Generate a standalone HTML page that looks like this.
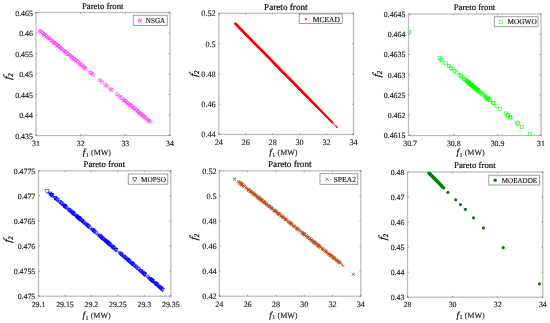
<!DOCTYPE html>
<html><head><meta charset="utf-8"><title>Pareto front</title>
<style>
html,body{margin:0;padding:0;background:#fff;}
svg{display:block;font-family:"Liberation Serif",serif;}
text{stroke:#222;stroke-width:0.15px;text-rendering:geometricPrecision;}
</style></head><body>
<svg width="550" height="323" viewBox="0 0 550 323">
<rect width="550" height="323" fill="#fff"/>
<g>
<rect x="36.00" y="12.50" width="134.00" height="123.00" fill="#fff" stroke="#bbbbbb" stroke-width="1.25"/>
<text x="36.00" y="145.80" font-size="7.85" text-anchor="middle" fill="#262626">31</text>
<text x="80.67" y="145.80" font-size="7.85" text-anchor="middle" fill="#262626">32</text>
<text x="125.33" y="145.80" font-size="7.85" text-anchor="middle" fill="#262626">33</text>
<text x="170.00" y="145.80" font-size="7.85" text-anchor="middle" fill="#262626">34</text>
<text x="32.90" y="138.80" font-size="7.85" text-anchor="end" fill="#262626">0.435</text>
<text x="32.90" y="118.30" font-size="7.85" text-anchor="end" fill="#262626">0.44</text>
<text x="32.90" y="97.80" font-size="7.85" text-anchor="end" fill="#262626">0.445</text>
<text x="32.90" y="77.30" font-size="7.85" text-anchor="end" fill="#262626">0.45</text>
<text x="32.90" y="56.80" font-size="7.85" text-anchor="end" fill="#262626">0.455</text>
<text x="32.90" y="36.30" font-size="7.85" text-anchor="end" fill="#262626">0.46</text>
<text x="32.90" y="15.80" font-size="7.85" text-anchor="end" fill="#262626">0.465</text>
<path d="M36.00 135.50v-1.40M36.00 12.50v1.40M80.67 135.50v-1.40M80.67 12.50v1.40M125.33 135.50v-1.40M125.33 12.50v1.40M170.00 135.50v-1.40M170.00 12.50v1.40M36.00 135.50h1.40M170.00 135.50h-1.40M36.00 115.00h1.40M170.00 115.00h-1.40M36.00 94.50h1.40M170.00 94.50h-1.40M36.00 74.00h1.40M170.00 74.00h-1.40M36.00 53.50h1.40M170.00 53.50h-1.40M36.00 33.00h1.40M170.00 33.00h-1.40M36.00 12.50h1.40M170.00 12.50h-1.40" stroke="#555" stroke-width="0.5" fill="none"/>
<text x="102.70" y="8.80" font-size="8.75" text-anchor="middle" fill="#000" style="stroke-width:0.2px">Pareto front</text>
<text x="82.70" y="154.90" font-size="9.20" font-style="italic" fill="#111" style="stroke-width:0.25px">f</text>
<text x="85.80" y="156.50" font-size="6.00" fill="#111">1</text>
<text x="91.00" y="154.90" font-size="8.00" fill="#262626">(MW)</text>
<text transform="translate(11.00 76.40) rotate(-90) skewX(-7)" font-size="10.80" text-anchor="middle" fill="#111" style="stroke-width:0.25px"><tspan font-style="italic">f</tspan><tspan font-size="7.00" dy="2.1">2</tspan></text>
<clipPath id="c36"><rect x="36.00" y="12.50" width="134.00" height="123.00"/></clipPath>
<g clip-path="url(#c36)">
<polygon points="39.80,28.67 40.33,30.24 41.99,30.26 40.66,31.25 41.15,32.83 39.80,31.87 38.45,32.83 38.94,31.25 37.61,30.26 39.27,30.24" fill="none" stroke="#ff00ff" stroke-width="0.40"/>
<polygon points="40.77,29.54 41.30,31.11 42.96,31.13 41.63,32.12 42.13,33.70 40.77,32.74 39.42,33.70 39.92,32.12 38.59,31.13 40.24,31.11" fill="none" stroke="#ff00ff" stroke-width="0.40"/>
<polygon points="42.45,30.63 42.98,32.21 44.64,32.22 43.30,33.21 43.80,34.79 42.45,33.83 41.10,34.79 41.59,33.21 40.26,32.22 41.92,32.21" fill="none" stroke="#ff00ff" stroke-width="0.40"/>
<polygon points="43.74,31.79 44.26,33.36 45.92,33.38 44.59,34.37 45.09,35.95 43.74,34.99 42.38,35.95 42.88,34.37 41.55,33.38 43.21,33.36" fill="none" stroke="#ff00ff" stroke-width="0.40"/>
<polygon points="44.68,32.44 45.20,34.02 46.86,34.03 45.53,35.02 46.03,36.60 44.68,35.64 43.32,36.60 43.82,35.02 42.49,34.03 44.15,34.02" fill="none" stroke="#ff00ff" stroke-width="0.40"/>
<polygon points="46.03,33.66 46.56,35.23 48.21,35.25 46.88,36.23 47.38,37.82 46.03,36.86 44.68,37.82 45.17,36.23 43.84,35.25 45.50,35.23" fill="none" stroke="#ff00ff" stroke-width="0.40"/>
<polygon points="47.60,34.97 48.13,36.54 49.79,36.56 48.46,37.55 48.95,39.13 47.60,38.17 46.25,39.13 46.74,37.55 45.41,36.56 47.07,36.54" fill="none" stroke="#ff00ff" stroke-width="0.40"/>
<polygon points="48.75,35.78 49.28,37.35 50.94,37.37 49.61,38.35 50.10,39.94 48.75,38.98 47.40,39.94 47.90,38.35 46.56,37.37 48.22,37.35" fill="none" stroke="#ff00ff" stroke-width="0.40"/>
<polygon points="50.38,37.46 50.91,39.03 52.57,39.04 51.23,40.03 51.73,41.62 50.38,40.66 49.03,41.62 49.52,40.03 48.19,39.04 49.85,39.03" fill="none" stroke="#ff00ff" stroke-width="0.40"/>
<polygon points="51.51,38.05 52.04,39.62 53.69,39.64 52.36,40.63 52.86,42.21 51.51,41.25 50.16,42.21 50.65,40.63 49.32,39.64 50.98,39.62" fill="none" stroke="#ff00ff" stroke-width="0.40"/>
<polygon points="53.27,39.97 53.80,41.54 55.46,41.56 54.13,42.55 54.62,44.13 53.27,43.17 51.92,44.13 52.42,42.55 51.08,41.56 52.74,41.54" fill="none" stroke="#ff00ff" stroke-width="0.40"/>
<polygon points="54.04,40.34 54.57,41.91 56.23,41.93 54.90,42.91 55.39,44.50 54.04,43.54 52.69,44.50 53.19,42.91 51.86,41.93 53.51,41.91" fill="none" stroke="#ff00ff" stroke-width="0.40"/>
<polygon points="55.24,41.33 55.77,42.91 57.43,42.92 56.09,43.91 56.59,45.49 55.24,44.53 53.89,45.49 54.38,43.91 53.05,42.92 54.71,42.91" fill="none" stroke="#ff00ff" stroke-width="0.40"/>
<polygon points="57.08,42.83 57.60,44.41 59.26,44.42 57.93,45.41 58.43,47.00 57.08,46.03 55.72,47.00 56.22,45.41 54.89,44.42 56.55,44.41" fill="none" stroke="#ff00ff" stroke-width="0.40"/>
<polygon points="57.89,43.14 58.42,44.71 60.07,44.73 58.74,45.72 59.24,47.30 57.89,46.34 56.53,47.30 57.03,45.72 55.70,44.73 57.36,44.71" fill="none" stroke="#ff00ff" stroke-width="0.40"/>
<polygon points="59.35,44.45 59.88,46.02 61.53,46.04 60.20,47.03 60.70,48.61 59.35,47.65 57.99,48.61 58.49,47.03 57.16,46.04 58.82,46.02" fill="none" stroke="#ff00ff" stroke-width="0.40"/>
<polygon points="60.79,45.84 61.32,47.42 62.98,47.43 61.65,48.42 62.15,50.00 60.79,49.04 59.44,50.00 59.94,48.42 58.61,47.43 60.27,47.42" fill="none" stroke="#ff00ff" stroke-width="0.40"/>
<polygon points="61.84,46.66 62.36,48.24 64.02,48.25 62.69,49.24 63.19,50.82 61.84,49.86 60.48,50.82 60.98,49.24 59.65,48.25 61.31,48.24" fill="none" stroke="#ff00ff" stroke-width="0.40"/>
<polygon points="63.52,47.87 64.05,49.44 65.71,49.45 64.37,50.44 64.87,52.03 63.52,51.07 62.17,52.03 62.66,50.44 61.33,49.45 62.99,49.44" fill="none" stroke="#ff00ff" stroke-width="0.40"/>
<polygon points="64.75,49.11 65.28,50.69 66.94,50.70 65.61,51.69 66.11,53.28 64.75,52.31 63.40,53.28 63.90,51.69 62.57,50.70 64.22,50.69" fill="none" stroke="#ff00ff" stroke-width="0.40"/>
<polygon points="65.96,49.92 66.49,51.49 68.15,51.51 66.82,52.50 67.31,54.08 65.96,53.12 64.61,54.08 65.10,52.50 63.77,51.51 65.43,51.49" fill="none" stroke="#ff00ff" stroke-width="0.40"/>
<polygon points="67.46,51.61 67.99,53.18 69.65,53.20 68.32,54.18 68.81,55.77 67.46,54.81 66.11,55.77 66.61,54.18 65.27,53.20 66.93,53.18" fill="none" stroke="#ff00ff" stroke-width="0.40"/>
<polygon points="68.41,51.83 68.94,53.41 70.60,53.42 69.27,54.41 69.77,55.99 68.41,55.03 67.06,55.99 67.56,54.41 66.23,53.42 67.89,53.41" fill="none" stroke="#ff00ff" stroke-width="0.40"/>
<polygon points="70.22,53.43 70.75,55.00 72.41,55.02 71.08,56.01 71.57,57.59 70.22,56.63 68.87,57.59 69.36,56.01 68.03,55.02 69.69,55.00" fill="none" stroke="#ff00ff" stroke-width="0.40"/>
<polygon points="71.42,54.39 71.94,55.96 73.60,55.98 72.27,56.97 72.77,58.55 71.42,57.59 70.06,58.55 70.56,56.97 69.23,55.98 70.89,55.96" fill="none" stroke="#ff00ff" stroke-width="0.40"/>
<polygon points="72.24,55.75 72.77,57.32 74.43,57.34 73.10,58.33 73.60,59.91 72.24,58.95 70.89,59.91 71.39,58.33 70.06,57.34 71.72,57.32" fill="none" stroke="#ff00ff" stroke-width="0.40"/>
<polygon points="73.79,56.48 74.32,58.05 75.98,58.07 74.65,59.06 75.14,60.64 73.79,59.68 72.44,60.64 72.93,59.06 71.60,58.07 73.26,58.05" fill="none" stroke="#ff00ff" stroke-width="0.40"/>
<polygon points="75.16,57.49 75.69,59.06 77.34,59.07 76.01,60.06 76.51,61.65 75.16,60.69 73.80,61.65 74.30,60.06 72.97,59.07 74.63,59.06" fill="none" stroke="#ff00ff" stroke-width="0.40"/>
<polygon points="76.11,58.22 76.64,59.79 78.30,59.81 76.97,60.80 77.46,62.38 76.11,61.42 74.76,62.38 75.26,60.80 73.93,59.81 75.58,59.79" fill="none" stroke="#ff00ff" stroke-width="0.40"/>
<polygon points="77.84,59.51 78.37,61.09 80.03,61.10 78.70,62.09 79.19,63.67 77.84,62.71 76.49,63.67 76.99,62.09 75.65,61.10 77.31,61.09" fill="none" stroke="#ff00ff" stroke-width="0.40"/>
<polygon points="79.39,60.96 79.92,62.54 81.58,62.55 80.25,63.54 80.74,65.12 79.39,64.16 78.04,65.12 78.53,63.54 77.20,62.55 78.86,62.54" fill="none" stroke="#ff00ff" stroke-width="0.40"/>
<polygon points="80.48,62.26 81.01,63.84 82.67,63.85 81.33,64.84 81.83,66.42 80.48,65.46 79.13,66.42 79.62,64.84 78.29,63.85 79.95,63.84" fill="none" stroke="#ff00ff" stroke-width="0.40"/>
<polygon points="81.78,62.68 82.31,64.25 83.96,64.27 82.63,65.26 83.13,66.84 81.78,65.88 80.42,66.84 80.92,65.26 79.59,64.27 81.25,64.25" fill="none" stroke="#ff00ff" stroke-width="0.40"/>
<polygon points="83.37,64.47 83.90,66.04 85.56,66.06 84.23,67.04 84.72,68.63 83.37,67.67 82.02,68.63 82.52,67.04 81.19,66.06 82.84,66.04" fill="none" stroke="#ff00ff" stroke-width="0.40"/>
<polygon points="84.31,65.10 84.84,66.67 86.50,66.69 85.17,67.68 85.66,69.26 84.31,68.30 82.96,69.26 83.46,67.68 82.13,66.69 83.78,66.67" fill="none" stroke="#ff00ff" stroke-width="0.40"/>
<polygon points="85.64,66.17 86.17,67.74 87.83,67.76 86.50,68.75 87.00,70.33 85.64,69.37 84.29,70.33 84.79,68.75 83.46,67.76 85.11,67.74" fill="none" stroke="#ff00ff" stroke-width="0.40"/>
<polygon points="90.09,70.07 90.62,71.65 92.27,71.66 90.94,72.65 91.44,74.23 90.09,73.27 88.74,74.23 89.23,72.65 87.90,71.66 89.56,71.65" fill="none" stroke="#ff00ff" stroke-width="0.40"/>
<polygon points="91.38,70.95 91.91,72.52 93.57,72.53 92.24,73.52 92.73,75.11 91.38,74.15 90.03,75.11 90.52,73.52 89.19,72.53 90.85,72.52" fill="none" stroke="#ff00ff" stroke-width="0.40"/>
<polygon points="93.13,72.39 93.66,73.96 95.32,73.98 93.99,74.96 94.49,76.55 93.13,75.59 91.78,76.55 92.28,74.96 90.95,73.98 92.60,73.96" fill="none" stroke="#ff00ff" stroke-width="0.40"/>
<polygon points="99.86,77.91 100.39,79.48 102.05,79.50 100.71,80.49 101.21,82.07 99.86,81.11 98.51,82.07 99.00,80.49 97.67,79.50 99.33,79.48" fill="none" stroke="#ff00ff" stroke-width="0.40"/>
<polygon points="101.89,79.63 102.42,81.20 104.08,81.22 102.74,82.21 103.24,83.79 101.89,82.83 100.54,83.79 101.03,82.21 99.70,81.22 101.36,81.20" fill="none" stroke="#ff00ff" stroke-width="0.40"/>
<polygon points="105.34,82.46 105.87,84.03 107.52,84.05 106.19,85.04 106.69,86.62 105.34,85.66 103.98,86.62 104.48,85.04 103.15,84.05 104.81,84.03" fill="none" stroke="#ff00ff" stroke-width="0.40"/>
<polygon points="106.90,83.73 107.43,85.30 109.09,85.32 107.76,86.31 108.25,87.89 106.90,86.93 105.55,87.89 106.04,86.31 104.71,85.32 106.37,85.30" fill="none" stroke="#ff00ff" stroke-width="0.40"/>
<polygon points="110.56,86.84 111.09,88.41 112.75,88.43 111.42,89.42 111.91,91.00 110.56,90.04 109.21,91.00 109.71,89.42 108.37,88.43 110.03,88.41" fill="none" stroke="#ff00ff" stroke-width="0.40"/>
<polygon points="111.89,87.72 112.42,89.29 114.08,89.31 112.75,90.30 113.25,91.88 111.89,90.92 110.54,91.88 111.04,90.30 109.71,89.31 111.37,89.29" fill="none" stroke="#ff00ff" stroke-width="0.40"/>
<polygon points="116.96,92.05 117.49,93.62 119.15,93.63 117.82,94.62 118.31,96.21 116.96,95.25 115.61,96.21 116.10,94.62 114.77,93.63 116.43,93.62" fill="none" stroke="#ff00ff" stroke-width="0.40"/>
<polygon points="119.34,94.02 119.87,95.59 121.53,95.61 120.20,96.60 120.70,98.18 119.34,97.22 117.99,98.18 118.49,96.60 117.16,95.61 118.81,95.59" fill="none" stroke="#ff00ff" stroke-width="0.40"/>
<polygon points="121.22,95.45 121.75,97.03 123.41,97.04 122.08,98.03 122.57,99.61 121.22,98.65 119.87,99.61 120.37,98.03 119.03,97.04 120.69,97.03" fill="none" stroke="#ff00ff" stroke-width="0.40"/>
<polygon points="123.55,97.81 124.08,99.38 125.74,99.40 124.41,100.39 124.90,101.97 123.55,101.01 122.20,101.97 122.70,100.39 121.36,99.40 123.02,99.38" fill="none" stroke="#ff00ff" stroke-width="0.40"/>
<polygon points="124.55,97.92 125.08,99.49 126.74,99.51 125.40,100.49 125.90,102.08 124.55,101.12 123.20,102.08 123.69,100.49 122.36,99.51 124.02,99.49" fill="none" stroke="#ff00ff" stroke-width="0.40"/>
<polygon points="125.83,99.32 126.36,100.89 128.01,100.91 126.68,101.90 127.18,103.48 125.83,102.52 124.47,103.48 124.97,101.90 123.64,100.91 125.30,100.89" fill="none" stroke="#ff00ff" stroke-width="0.40"/>
<polygon points="127.32,100.68 127.85,102.25 129.51,102.27 128.17,103.26 128.67,104.84 127.32,103.88 125.97,104.84 126.46,103.26 125.13,102.27 126.79,102.25" fill="none" stroke="#ff00ff" stroke-width="0.40"/>
<polygon points="128.66,101.63 129.19,103.20 130.84,103.22 129.51,104.21 130.01,105.79 128.66,104.83 127.31,105.79 127.80,104.21 126.47,103.22 128.13,103.20" fill="none" stroke="#ff00ff" stroke-width="0.40"/>
<polygon points="129.79,102.58 130.32,104.15 131.98,104.17 130.64,105.16 131.14,106.74 129.79,105.78 128.44,106.74 128.93,105.16 127.60,104.17 129.26,104.15" fill="none" stroke="#ff00ff" stroke-width="0.40"/>
<polygon points="131.01,103.12 131.54,104.69 133.20,104.71 131.87,105.70 132.36,107.28 131.01,106.32 129.66,107.28 130.15,105.70 128.82,104.71 130.48,104.69" fill="none" stroke="#ff00ff" stroke-width="0.40"/>
<polygon points="132.51,104.61 133.04,106.18 134.70,106.20 133.37,107.18 133.86,108.77 132.51,107.81 131.16,108.77 131.66,107.18 130.32,106.20 131.98,106.18" fill="none" stroke="#ff00ff" stroke-width="0.40"/>
<polygon points="133.64,105.51 134.17,107.08 135.83,107.10 134.50,108.09 134.99,109.67 133.64,108.71 132.29,109.67 132.78,108.09 131.45,107.10 133.11,107.08" fill="none" stroke="#ff00ff" stroke-width="0.40"/>
<polygon points="134.55,106.28 135.08,107.85 136.74,107.87 135.41,108.86 135.90,110.44 134.55,109.48 133.20,110.44 133.69,108.86 132.36,107.87 134.02,107.85" fill="none" stroke="#ff00ff" stroke-width="0.40"/>
<polygon points="136.45,108.12 136.98,109.69 138.64,109.71 137.30,110.70 137.80,112.28 136.45,111.32 135.10,112.28 135.59,110.70 134.26,109.71 135.92,109.69" fill="none" stroke="#ff00ff" stroke-width="0.40"/>
<polygon points="137.63,108.62 138.16,110.19 139.82,110.21 138.49,111.20 138.98,112.78 137.63,111.82 136.28,112.78 136.77,111.20 135.44,110.21 137.10,110.19" fill="none" stroke="#ff00ff" stroke-width="0.40"/>
<polygon points="138.58,109.73 139.11,111.30 140.77,111.32 139.44,112.31 139.94,113.89 138.58,112.93 137.23,113.89 137.73,112.31 136.40,111.32 138.05,111.30" fill="none" stroke="#ff00ff" stroke-width="0.40"/>
<polygon points="140.03,111.05 140.56,112.62 142.21,112.64 140.88,113.62 141.38,115.21 140.03,114.25 138.67,115.21 139.17,113.62 137.84,112.64 139.50,112.62" fill="none" stroke="#ff00ff" stroke-width="0.40"/>
<polygon points="140.85,111.80 141.38,113.37 143.04,113.39 141.71,114.37 142.21,115.96 140.85,115.00 139.50,115.96 140.00,114.37 138.67,113.39 140.32,113.37" fill="none" stroke="#ff00ff" stroke-width="0.40"/>
<polygon points="142.19,112.83 142.72,114.40 144.38,114.42 143.04,115.40 143.54,116.99 142.19,116.03 140.84,116.99 141.33,115.40 140.00,114.42 141.66,114.40" fill="none" stroke="#ff00ff" stroke-width="0.40"/>
<polygon points="143.58,113.92 144.11,115.49 145.77,115.51 144.44,116.50 144.93,118.08 143.58,117.12 142.23,118.08 142.73,116.50 141.39,115.51 143.05,115.49" fill="none" stroke="#ff00ff" stroke-width="0.40"/>
<polygon points="144.70,114.84 145.23,116.41 146.89,116.43 145.55,117.42 146.05,119.00 144.70,118.04 143.35,119.00 143.84,117.42 142.51,116.43 144.17,116.41" fill="none" stroke="#ff00ff" stroke-width="0.40"/>
<polygon points="145.92,115.81 146.45,117.38 148.11,117.40 146.78,118.39 147.27,119.97 145.92,119.01 144.57,119.97 145.06,118.39 143.73,117.40 145.39,117.38" fill="none" stroke="#ff00ff" stroke-width="0.40"/>
<polygon points="147.76,117.39 148.29,118.97 149.95,118.98 148.62,119.97 149.12,121.55 147.76,120.59 146.41,121.55 146.91,119.97 145.58,118.98 147.24,118.97" fill="none" stroke="#ff00ff" stroke-width="0.40"/>
<polygon points="148.83,118.33 149.36,119.90 151.01,119.91 149.68,120.90 150.18,122.49 148.83,121.53 147.47,122.49 147.97,120.90 146.64,119.91 148.30,119.90" fill="none" stroke="#ff00ff" stroke-width="0.40"/>
<polygon points="149.88,119.23 150.41,120.80 152.07,120.82 150.74,121.81 151.24,123.39 149.88,122.43 148.53,123.39 149.03,121.81 147.70,120.82 149.36,120.80" fill="none" stroke="#ff00ff" stroke-width="0.40"/>
</g>
<rect x="133.20" y="15.20" width="34.00" height="10.30" fill="#fff" stroke="#777" stroke-width="0.7"/>
<polygon points="139.80,18.32 140.30,19.81 141.88,19.82 140.61,20.76 141.08,22.27 139.80,21.36 138.52,22.27 138.99,20.76 137.72,19.82 139.30,19.81" fill="none" stroke="#ff00ff" stroke-width="0.60"/>
<text x="145.80" y="23.00" font-size="7.6" textLength="19.40" lengthAdjust="spacingAndGlyphs" fill="#111">NSGA</text>
</g>
<g>
<rect x="218.80" y="13.30" width="134.70" height="121.20" fill="#fff" stroke="#bbbbbb" stroke-width="1.25"/>
<text x="218.80" y="144.50" font-size="8.24" text-anchor="middle" fill="#262626">24</text>
<text x="245.74" y="144.50" font-size="8.24" text-anchor="middle" fill="#262626">26</text>
<text x="272.68" y="144.50" font-size="8.24" text-anchor="middle" fill="#262626">28</text>
<text x="299.62" y="144.50" font-size="8.24" text-anchor="middle" fill="#262626">30</text>
<text x="326.56" y="144.50" font-size="8.24" text-anchor="middle" fill="#262626">32</text>
<text x="353.50" y="144.50" font-size="8.24" text-anchor="middle" fill="#262626">34</text>
<text x="215.70" y="137.40" font-size="8.24" text-anchor="end" fill="#262626">0.44</text>
<text x="215.70" y="107.10" font-size="8.24" text-anchor="end" fill="#262626">0.46</text>
<text x="215.70" y="76.80" font-size="8.24" text-anchor="end" fill="#262626">0.48</text>
<text x="215.70" y="46.50" font-size="8.24" text-anchor="end" fill="#262626">0.5</text>
<text x="215.70" y="16.20" font-size="8.24" text-anchor="end" fill="#262626">0.52</text>
<path d="M218.80 134.50v-1.40M218.80 13.30v1.40M245.74 134.50v-1.40M245.74 13.30v1.40M272.68 134.50v-1.40M272.68 13.30v1.40M299.62 134.50v-1.40M299.62 13.30v1.40M326.56 134.50v-1.40M326.56 13.30v1.40M353.50 134.50v-1.40M353.50 13.30v1.40M218.80 134.50h1.40M353.50 134.50h-1.40M218.80 104.20h1.40M353.50 104.20h-1.40M218.80 73.90h1.40M353.50 73.90h-1.40M218.80 43.60h1.40M353.50 43.60h-1.40M218.80 13.30h1.40M353.50 13.30h-1.40" stroke="#555" stroke-width="0.5" fill="none"/>
<text x="285.85" y="10.00" font-size="9.19" text-anchor="middle" fill="#000" style="stroke-width:0.2px">Pareto front</text>
<text x="269.20" y="154.90" font-size="9.20" font-style="italic" fill="#111" style="stroke-width:0.25px">f</text>
<text x="272.30" y="156.50" font-size="6.00" fill="#111">1</text>
<text x="277.50" y="154.90" font-size="8.00" fill="#262626">(MW)</text>
<text transform="translate(196.60 73.80) rotate(-90) skewX(-7)" font-size="10.80" text-anchor="middle" fill="#111" style="stroke-width:0.25px"><tspan font-style="italic">f</tspan><tspan font-size="7.00" dy="2.1">2</tspan></text>
<clipPath id="c218"><rect x="218.80" y="13.30" width="134.70" height="121.20"/></clipPath>
<g clip-path="url(#c218)">
<circle cx="235.30" cy="23.60" r="1.23" fill="#ff0000"/>
<circle cx="235.79" cy="24.10" r="1.23" fill="#ff0000"/>
<circle cx="236.27" cy="24.59" r="1.23" fill="#ff0000"/>
<circle cx="236.76" cy="25.09" r="1.23" fill="#ff0000"/>
<circle cx="237.25" cy="25.58" r="1.23" fill="#ff0000"/>
<circle cx="237.73" cy="26.08" r="1.23" fill="#ff0000"/>
<circle cx="238.22" cy="26.57" r="1.23" fill="#ff0000"/>
<circle cx="238.71" cy="27.07" r="1.23" fill="#ff0000"/>
<circle cx="239.19" cy="27.56" r="1.23" fill="#ff0000"/>
<circle cx="239.68" cy="28.06" r="1.23" fill="#ff0000"/>
<circle cx="240.17" cy="28.55" r="1.23" fill="#ff0000"/>
<circle cx="240.65" cy="29.05" r="1.23" fill="#ff0000"/>
<circle cx="241.14" cy="29.55" r="1.23" fill="#ff0000"/>
<circle cx="241.62" cy="30.04" r="1.23" fill="#ff0000"/>
<circle cx="242.11" cy="30.54" r="1.23" fill="#ff0000"/>
<circle cx="242.60" cy="31.03" r="1.23" fill="#ff0000"/>
<circle cx="243.08" cy="31.53" r="1.23" fill="#ff0000"/>
<circle cx="243.57" cy="32.02" r="1.23" fill="#ff0000"/>
<circle cx="244.06" cy="32.52" r="1.23" fill="#ff0000"/>
<circle cx="244.54" cy="33.01" r="1.23" fill="#ff0000"/>
<circle cx="245.03" cy="33.51" r="1.23" fill="#ff0000"/>
<circle cx="245.52" cy="34.01" r="1.23" fill="#ff0000"/>
<circle cx="246.00" cy="34.50" r="1.23" fill="#ff0000"/>
<circle cx="246.49" cy="35.00" r="1.23" fill="#ff0000"/>
<circle cx="246.98" cy="35.49" r="1.23" fill="#ff0000"/>
<circle cx="247.46" cy="35.99" r="1.23" fill="#ff0000"/>
<circle cx="247.95" cy="36.48" r="1.23" fill="#ff0000"/>
<circle cx="248.44" cy="36.98" r="1.23" fill="#ff0000"/>
<circle cx="248.92" cy="37.47" r="1.23" fill="#ff0000"/>
<circle cx="249.41" cy="37.97" r="1.23" fill="#ff0000"/>
<circle cx="249.90" cy="38.47" r="1.23" fill="#ff0000"/>
<circle cx="250.38" cy="38.96" r="1.23" fill="#ff0000"/>
<circle cx="250.87" cy="39.46" r="1.23" fill="#ff0000"/>
<circle cx="251.35" cy="39.95" r="1.23" fill="#ff0000"/>
<circle cx="251.84" cy="40.45" r="1.23" fill="#ff0000"/>
<circle cx="252.33" cy="40.94" r="1.23" fill="#ff0000"/>
<circle cx="252.81" cy="41.44" r="1.23" fill="#ff0000"/>
<circle cx="253.30" cy="41.93" r="1.23" fill="#ff0000"/>
<circle cx="253.79" cy="42.43" r="1.23" fill="#ff0000"/>
<circle cx="254.27" cy="42.92" r="1.23" fill="#ff0000"/>
<circle cx="254.76" cy="43.42" r="1.23" fill="#ff0000"/>
<circle cx="255.25" cy="43.92" r="1.23" fill="#ff0000"/>
<circle cx="255.73" cy="44.41" r="1.23" fill="#ff0000"/>
<circle cx="256.22" cy="44.91" r="1.23" fill="#ff0000"/>
<circle cx="256.71" cy="45.40" r="1.23" fill="#ff0000"/>
<circle cx="257.19" cy="45.90" r="1.23" fill="#ff0000"/>
<circle cx="257.68" cy="46.39" r="1.23" fill="#ff0000"/>
<circle cx="258.17" cy="46.89" r="1.23" fill="#ff0000"/>
<circle cx="258.65" cy="47.38" r="1.23" fill="#ff0000"/>
<circle cx="259.14" cy="47.88" r="1.23" fill="#ff0000"/>
<circle cx="259.62" cy="48.38" r="1.23" fill="#ff0000"/>
<circle cx="260.11" cy="48.87" r="1.23" fill="#ff0000"/>
<circle cx="260.60" cy="49.37" r="1.23" fill="#ff0000"/>
<circle cx="261.08" cy="49.86" r="1.23" fill="#ff0000"/>
<circle cx="261.57" cy="50.36" r="1.23" fill="#ff0000"/>
<circle cx="262.06" cy="50.85" r="1.23" fill="#ff0000"/>
<circle cx="262.54" cy="51.35" r="1.23" fill="#ff0000"/>
<circle cx="263.03" cy="51.84" r="1.23" fill="#ff0000"/>
<circle cx="263.52" cy="52.34" r="1.23" fill="#ff0000"/>
<circle cx="264.00" cy="52.83" r="1.23" fill="#ff0000"/>
<circle cx="264.49" cy="53.33" r="1.23" fill="#ff0000"/>
<circle cx="264.98" cy="53.83" r="1.23" fill="#ff0000"/>
<circle cx="265.46" cy="54.32" r="1.23" fill="#ff0000"/>
<circle cx="265.95" cy="54.82" r="1.23" fill="#ff0000"/>
<circle cx="266.44" cy="55.31" r="1.23" fill="#ff0000"/>
<circle cx="266.92" cy="55.81" r="1.23" fill="#ff0000"/>
<circle cx="267.41" cy="56.30" r="1.23" fill="#ff0000"/>
<circle cx="267.90" cy="56.80" r="1.23" fill="#ff0000"/>
<circle cx="268.38" cy="57.29" r="1.23" fill="#ff0000"/>
<circle cx="268.87" cy="57.79" r="1.23" fill="#ff0000"/>
<circle cx="269.36" cy="58.29" r="1.23" fill="#ff0000"/>
<circle cx="269.84" cy="58.78" r="1.23" fill="#ff0000"/>
<circle cx="270.33" cy="59.28" r="1.23" fill="#ff0000"/>
<circle cx="270.81" cy="59.77" r="1.23" fill="#ff0000"/>
<circle cx="271.30" cy="60.27" r="1.23" fill="#ff0000"/>
<circle cx="271.79" cy="60.76" r="1.23" fill="#ff0000"/>
<circle cx="272.27" cy="61.26" r="1.23" fill="#ff0000"/>
<circle cx="272.76" cy="61.75" r="1.23" fill="#ff0000"/>
<circle cx="273.25" cy="62.25" r="1.23" fill="#ff0000"/>
<circle cx="273.73" cy="62.74" r="1.23" fill="#ff0000"/>
<circle cx="274.22" cy="63.24" r="1.23" fill="#ff0000"/>
<circle cx="274.71" cy="63.74" r="1.23" fill="#ff0000"/>
<circle cx="275.19" cy="64.23" r="1.23" fill="#ff0000"/>
<circle cx="275.68" cy="64.73" r="1.23" fill="#ff0000"/>
<circle cx="276.17" cy="65.22" r="1.23" fill="#ff0000"/>
<circle cx="276.65" cy="65.72" r="1.23" fill="#ff0000"/>
<circle cx="277.14" cy="66.21" r="1.23" fill="#ff0000"/>
<circle cx="277.63" cy="66.71" r="1.23" fill="#ff0000"/>
<circle cx="278.11" cy="67.20" r="1.23" fill="#ff0000"/>
<circle cx="278.60" cy="67.70" r="1.23" fill="#ff0000"/>
<circle cx="279.09" cy="68.19" r="1.23" fill="#ff0000"/>
<circle cx="279.57" cy="68.69" r="1.23" fill="#ff0000"/>
<circle cx="280.06" cy="69.19" r="1.23" fill="#ff0000"/>
<circle cx="280.54" cy="69.68" r="1.23" fill="#ff0000"/>
<circle cx="281.03" cy="70.18" r="1.23" fill="#ff0000"/>
<circle cx="281.52" cy="70.67" r="1.23" fill="#ff0000"/>
<circle cx="282.00" cy="71.17" r="1.23" fill="#ff0000"/>
<circle cx="282.49" cy="71.66" r="1.23" fill="#ff0000"/>
<circle cx="282.98" cy="72.16" r="1.23" fill="#ff0000"/>
<circle cx="283.46" cy="72.65" r="1.23" fill="#ff0000"/>
<circle cx="283.95" cy="73.15" r="1.23" fill="#ff0000"/>
<circle cx="284.44" cy="73.65" r="1.23" fill="#ff0000"/>
<circle cx="284.92" cy="74.14" r="1.23" fill="#ff0000"/>
<circle cx="285.41" cy="74.64" r="1.23" fill="#ff0000"/>
<circle cx="285.90" cy="75.13" r="1.23" fill="#ff0000"/>
<circle cx="286.38" cy="75.63" r="1.23" fill="#ff0000"/>
<circle cx="286.87" cy="76.12" r="1.23" fill="#ff0000"/>
<circle cx="287.36" cy="76.62" r="1.23" fill="#ff0000"/>
<circle cx="287.84" cy="77.11" r="1.23" fill="#ff0000"/>
<circle cx="288.33" cy="77.61" r="1.23" fill="#ff0000"/>
<circle cx="288.81" cy="78.11" r="1.23" fill="#ff0000"/>
<circle cx="289.30" cy="78.60" r="1.23" fill="#ff0000"/>
<circle cx="289.79" cy="79.10" r="1.23" fill="#ff0000"/>
<circle cx="290.27" cy="79.59" r="1.23" fill="#ff0000"/>
<circle cx="290.76" cy="80.09" r="1.23" fill="#ff0000"/>
<circle cx="291.25" cy="80.58" r="1.23" fill="#ff0000"/>
<circle cx="291.73" cy="81.08" r="1.23" fill="#ff0000"/>
<circle cx="292.22" cy="81.57" r="1.23" fill="#ff0000"/>
<circle cx="292.71" cy="82.07" r="1.23" fill="#ff0000"/>
<circle cx="293.19" cy="82.56" r="1.23" fill="#ff0000"/>
<circle cx="293.68" cy="83.06" r="1.23" fill="#ff0000"/>
<circle cx="294.17" cy="83.56" r="1.23" fill="#ff0000"/>
<circle cx="294.65" cy="84.05" r="1.23" fill="#ff0000"/>
<circle cx="295.14" cy="84.55" r="1.23" fill="#ff0000"/>
<circle cx="295.63" cy="85.04" r="1.23" fill="#ff0000"/>
<circle cx="296.11" cy="85.54" r="1.23" fill="#ff0000"/>
<circle cx="296.60" cy="86.03" r="1.23" fill="#ff0000"/>
<circle cx="297.09" cy="86.53" r="1.23" fill="#ff0000"/>
<circle cx="297.57" cy="87.02" r="1.23" fill="#ff0000"/>
<circle cx="298.06" cy="87.52" r="1.23" fill="#ff0000"/>
<circle cx="298.55" cy="88.02" r="1.23" fill="#ff0000"/>
<circle cx="299.03" cy="88.51" r="1.23" fill="#ff0000"/>
<circle cx="299.52" cy="89.01" r="1.23" fill="#ff0000"/>
<circle cx="300.00" cy="89.50" r="1.23" fill="#ff0000"/>
<circle cx="300.49" cy="90.00" r="1.23" fill="#ff0000"/>
<circle cx="300.98" cy="90.49" r="1.23" fill="#ff0000"/>
<circle cx="301.46" cy="90.99" r="1.23" fill="#ff0000"/>
<circle cx="301.95" cy="91.48" r="1.23" fill="#ff0000"/>
<circle cx="302.44" cy="91.98" r="1.23" fill="#ff0000"/>
<circle cx="302.92" cy="92.47" r="1.23" fill="#ff0000"/>
<circle cx="303.41" cy="92.97" r="1.23" fill="#ff0000"/>
<circle cx="303.90" cy="93.47" r="1.23" fill="#ff0000"/>
<circle cx="304.38" cy="93.96" r="1.23" fill="#ff0000"/>
<circle cx="304.87" cy="94.46" r="1.23" fill="#ff0000"/>
<circle cx="305.36" cy="94.95" r="1.23" fill="#ff0000"/>
<circle cx="305.84" cy="95.45" r="1.23" fill="#ff0000"/>
<circle cx="306.33" cy="95.94" r="1.23" fill="#ff0000"/>
<circle cx="306.82" cy="96.44" r="1.23" fill="#ff0000"/>
<circle cx="307.30" cy="96.93" r="1.23" fill="#ff0000"/>
<circle cx="307.79" cy="97.43" r="1.23" fill="#ff0000"/>
<circle cx="308.28" cy="97.93" r="1.23" fill="#ff0000"/>
<circle cx="308.76" cy="98.42" r="1.23" fill="#ff0000"/>
<circle cx="309.25" cy="98.92" r="1.23" fill="#ff0000"/>
<circle cx="309.73" cy="99.41" r="1.23" fill="#ff0000"/>
<circle cx="310.22" cy="99.91" r="1.23" fill="#ff0000"/>
<circle cx="310.71" cy="100.40" r="1.23" fill="#ff0000"/>
<circle cx="311.19" cy="100.90" r="1.23" fill="#ff0000"/>
<circle cx="311.68" cy="101.39" r="1.23" fill="#ff0000"/>
<circle cx="312.17" cy="101.89" r="1.23" fill="#ff0000"/>
<circle cx="312.65" cy="102.38" r="1.23" fill="#ff0000"/>
<circle cx="313.14" cy="102.88" r="1.23" fill="#ff0000"/>
<circle cx="313.63" cy="103.38" r="1.22" fill="#ff0000"/>
<circle cx="314.11" cy="103.87" r="1.22" fill="#ff0000"/>
<circle cx="314.60" cy="104.37" r="1.21" fill="#ff0000"/>
<circle cx="315.09" cy="104.86" r="1.21" fill="#ff0000"/>
<circle cx="315.57" cy="105.36" r="1.20" fill="#ff0000"/>
<circle cx="316.06" cy="105.85" r="1.20" fill="#ff0000"/>
<circle cx="316.55" cy="106.35" r="1.19" fill="#ff0000"/>
<circle cx="317.03" cy="106.84" r="1.19" fill="#ff0000"/>
<circle cx="317.52" cy="107.34" r="1.18" fill="#ff0000"/>
<circle cx="318.00" cy="107.84" r="1.18" fill="#ff0000"/>
<circle cx="318.49" cy="108.33" r="1.17" fill="#ff0000"/>
<circle cx="318.98" cy="108.83" r="1.17" fill="#ff0000"/>
<circle cx="319.46" cy="109.32" r="1.16" fill="#ff0000"/>
<circle cx="319.95" cy="109.82" r="1.16" fill="#ff0000"/>
<circle cx="320.44" cy="110.31" r="1.15" fill="#ff0000"/>
<circle cx="320.92" cy="110.81" r="1.15" fill="#ff0000"/>
<circle cx="321.41" cy="111.30" r="1.15" fill="#ff0000"/>
<circle cx="321.90" cy="111.80" r="1.14" fill="#ff0000"/>
<circle cx="322.38" cy="112.29" r="1.14" fill="#ff0000"/>
<circle cx="322.87" cy="112.79" r="1.13" fill="#ff0000"/>
<circle cx="323.36" cy="113.29" r="1.13" fill="#ff0000"/>
<circle cx="323.84" cy="113.78" r="1.12" fill="#ff0000"/>
<circle cx="324.33" cy="114.28" r="1.12" fill="#ff0000"/>
<circle cx="324.82" cy="114.77" r="1.11" fill="#ff0000"/>
<circle cx="325.30" cy="115.27" r="1.11" fill="#ff0000"/>
<circle cx="325.79" cy="115.76" r="1.10" fill="#ff0000"/>
<circle cx="326.28" cy="116.26" r="1.10" fill="#ff0000"/>
<circle cx="326.76" cy="116.75" r="1.09" fill="#ff0000"/>
<circle cx="327.25" cy="117.25" r="1.09" fill="#ff0000"/>
<circle cx="327.74" cy="117.75" r="1.08" fill="#ff0000"/>
<circle cx="328.22" cy="118.24" r="1.08" fill="#ff0000"/>
<circle cx="328.71" cy="118.74" r="1.07" fill="#ff0000"/>
<circle cx="329.19" cy="119.23" r="1.07" fill="#ff0000"/>
<circle cx="329.68" cy="119.73" r="1.07" fill="#ff0000"/>
<circle cx="330.17" cy="120.22" r="1.06" fill="#ff0000"/>
<circle cx="330.65" cy="120.72" r="1.06" fill="#ff0000"/>
<circle cx="331.14" cy="121.21" r="1.05" fill="#ff0000"/>
<circle cx="331.63" cy="121.71" r="1.05" fill="#ff0000"/>
<circle cx="332.11" cy="122.20" r="1.04" fill="#ff0000"/>
<circle cx="332.60" cy="122.70" r="1.04" fill="#ff0000"/>
<circle cx="334.20" cy="124.30" r="0.69" fill="#ff0000"/>
<circle cx="335.50" cy="125.70" r="0.69" fill="#ff0000"/>
<circle cx="336.80" cy="127.00" r="1.06" fill="#ff0000"/>
</g>
<rect x="299.20" y="14.00" width="43.00" height="9.50" fill="#fff" stroke="#777" stroke-width="0.7"/>
<circle cx="306.00" cy="19.00" r="1.00" fill="#ff0000"/>
<text x="312.80" y="21.50" font-size="7.6" textLength="27.10" lengthAdjust="spacingAndGlyphs" fill="#111">MCEAD</text>
</g>
<g>
<rect x="408.50" y="14.00" width="132.50" height="121.50" fill="#fff" stroke="#bbbbbb" stroke-width="1.25"/>
<text x="410.10" y="145.50" font-size="7.85" text-anchor="middle" fill="#262626">30.7</text>
<text x="453.80" y="145.50" font-size="7.85" text-anchor="middle" fill="#262626">30.8</text>
<text x="497.50" y="145.50" font-size="7.85" text-anchor="middle" fill="#262626">30.9</text>
<text x="541.00" y="145.50" font-size="7.85" text-anchor="middle" fill="#262626">31</text>
<text x="405.40" y="138.30" font-size="7.85" text-anchor="end" fill="#262626">0.4615</text>
<text x="405.40" y="118.05" font-size="7.85" text-anchor="end" fill="#262626">0.462</text>
<text x="405.40" y="97.80" font-size="7.85" text-anchor="end" fill="#262626">0.4625</text>
<text x="405.40" y="77.55" font-size="7.85" text-anchor="end" fill="#262626">0.463</text>
<text x="405.40" y="57.30" font-size="7.85" text-anchor="end" fill="#262626">0.4635</text>
<text x="405.40" y="37.05" font-size="7.85" text-anchor="end" fill="#262626">0.464</text>
<text x="405.40" y="16.80" font-size="7.85" text-anchor="end" fill="#262626">0.4645</text>
<path d="M410.10 135.50v-1.40M410.10 14.00v1.40M453.80 135.50v-1.40M453.80 14.00v1.40M497.50 135.50v-1.40M497.50 14.00v1.40M541.00 135.50v-1.40M541.00 14.00v1.40M408.50 135.50h1.40M541.00 135.50h-1.40M408.50 115.25h1.40M541.00 115.25h-1.40M408.50 95.00h1.40M541.00 95.00h-1.40M408.50 74.75h1.40M541.00 74.75h-1.40M408.50 54.50h1.40M541.00 54.50h-1.40M408.50 34.25h1.40M541.00 34.25h-1.40M408.50 14.00h1.40M541.00 14.00h-1.40" stroke="#555" stroke-width="0.5" fill="none"/>
<text x="474.45" y="10.00" font-size="8.75" text-anchor="middle" fill="#000" style="stroke-width:0.2px">Pareto front</text>
<text x="456.40" y="154.90" font-size="9.20" font-style="italic" fill="#111" style="stroke-width:0.25px">f</text>
<text x="459.50" y="156.50" font-size="6.00" fill="#111">1</text>
<text x="464.70" y="154.90" font-size="8.00" fill="#262626">(MW)</text>
<text transform="translate(380.00 73.90) rotate(-90) skewX(-7)" font-size="10.80" text-anchor="middle" fill="#111" style="stroke-width:0.25px"><tspan font-style="italic">f</tspan><tspan font-size="7.00" dy="2.1">2</tspan></text>
<clipPath id="c408"><rect x="408.50" y="14.00" width="132.50" height="121.50"/></clipPath>
<g clip-path="url(#c408)">
<rect x="437.95" y="56.72" width="3.10" height="3.10" fill="none" stroke="#00ff00" stroke-width="0.55"/>
<rect x="439.45" y="58.03" width="3.10" height="3.10" fill="none" stroke="#00ff00" stroke-width="0.55"/>
<rect x="440.35" y="58.90" width="3.10" height="3.10" fill="none" stroke="#00ff00" stroke-width="0.55"/>
<rect x="444.25" y="61.80" width="3.10" height="3.10" fill="none" stroke="#00ff00" stroke-width="0.55"/>
<rect x="447.45" y="64.58" width="3.10" height="3.10" fill="none" stroke="#00ff00" stroke-width="0.55"/>
<rect x="449.25" y="66.19" width="3.10" height="3.10" fill="none" stroke="#00ff00" stroke-width="0.55"/>
<rect x="450.95" y="67.62" width="3.10" height="3.10" fill="none" stroke="#00ff00" stroke-width="0.55"/>
<rect x="452.95" y="69.28" width="3.10" height="3.10" fill="none" stroke="#00ff00" stroke-width="0.55"/>
<rect x="454.95" y="70.89" width="3.10" height="3.10" fill="none" stroke="#00ff00" stroke-width="0.55"/>
<rect x="457.95" y="73.48" width="3.10" height="3.10" fill="none" stroke="#00ff00" stroke-width="0.55"/>
<rect x="459.45" y="74.70" width="3.10" height="3.10" fill="none" stroke="#00ff00" stroke-width="0.55"/>
<rect x="460.95" y="75.89" width="3.10" height="3.10" fill="none" stroke="#00ff00" stroke-width="0.55"/>
<rect x="462.45" y="77.38" width="3.10" height="3.10" fill="none" stroke="#00ff00" stroke-width="0.55"/>
<rect x="463.95" y="78.46" width="3.10" height="3.10" fill="none" stroke="#00ff00" stroke-width="0.55"/>
<rect x="464.95" y="79.22" width="3.10" height="3.10" fill="none" stroke="#00ff00" stroke-width="0.55"/>
<rect x="465.40" y="79.64" width="3.10" height="3.10" fill="none" stroke="#00ff00" stroke-width="0.55"/>
<rect x="465.85" y="80.00" width="3.10" height="3.10" fill="none" stroke="#00ff00" stroke-width="0.55"/>
<rect x="466.30" y="80.39" width="3.10" height="3.10" fill="none" stroke="#00ff00" stroke-width="0.55"/>
<rect x="466.75" y="80.55" width="3.10" height="3.10" fill="none" stroke="#00ff00" stroke-width="0.55"/>
<rect x="467.20" y="81.11" width="3.10" height="3.10" fill="none" stroke="#00ff00" stroke-width="0.55"/>
<rect x="467.65" y="81.60" width="3.10" height="3.10" fill="none" stroke="#00ff00" stroke-width="0.55"/>
<rect x="468.10" y="81.80" width="3.10" height="3.10" fill="none" stroke="#00ff00" stroke-width="0.55"/>
<rect x="468.55" y="82.27" width="3.10" height="3.10" fill="none" stroke="#00ff00" stroke-width="0.55"/>
<rect x="469.00" y="82.72" width="3.10" height="3.10" fill="none" stroke="#00ff00" stroke-width="0.55"/>
<rect x="469.45" y="83.09" width="3.10" height="3.10" fill="none" stroke="#00ff00" stroke-width="0.55"/>
<rect x="469.90" y="83.52" width="3.10" height="3.10" fill="none" stroke="#00ff00" stroke-width="0.55"/>
<rect x="470.35" y="83.64" width="3.10" height="3.10" fill="none" stroke="#00ff00" stroke-width="0.55"/>
<rect x="470.80" y="84.12" width="3.10" height="3.10" fill="none" stroke="#00ff00" stroke-width="0.55"/>
<rect x="471.25" y="84.49" width="3.10" height="3.10" fill="none" stroke="#00ff00" stroke-width="0.55"/>
<rect x="471.70" y="84.95" width="3.10" height="3.10" fill="none" stroke="#00ff00" stroke-width="0.55"/>
<rect x="472.15" y="85.36" width="3.10" height="3.10" fill="none" stroke="#00ff00" stroke-width="0.55"/>
<rect x="472.60" y="85.43" width="3.10" height="3.10" fill="none" stroke="#00ff00" stroke-width="0.55"/>
<rect x="473.05" y="86.11" width="3.10" height="3.10" fill="none" stroke="#00ff00" stroke-width="0.55"/>
<rect x="473.50" y="86.28" width="3.10" height="3.10" fill="none" stroke="#00ff00" stroke-width="0.55"/>
<rect x="473.95" y="86.83" width="3.10" height="3.10" fill="none" stroke="#00ff00" stroke-width="0.55"/>
<rect x="474.40" y="87.03" width="3.10" height="3.10" fill="none" stroke="#00ff00" stroke-width="0.55"/>
<rect x="474.85" y="87.54" width="3.10" height="3.10" fill="none" stroke="#00ff00" stroke-width="0.55"/>
<rect x="475.30" y="88.00" width="3.10" height="3.10" fill="none" stroke="#00ff00" stroke-width="0.55"/>
<rect x="475.75" y="88.26" width="3.10" height="3.10" fill="none" stroke="#00ff00" stroke-width="0.55"/>
<rect x="476.20" y="88.67" width="3.10" height="3.10" fill="none" stroke="#00ff00" stroke-width="0.55"/>
<rect x="476.65" y="89.09" width="3.10" height="3.10" fill="none" stroke="#00ff00" stroke-width="0.55"/>
<rect x="476.95" y="89.29" width="3.10" height="3.10" fill="none" stroke="#00ff00" stroke-width="0.55"/>
<rect x="478.20" y="90.31" width="3.10" height="3.10" fill="none" stroke="#00ff00" stroke-width="0.55"/>
<rect x="479.45" y="91.48" width="3.10" height="3.10" fill="none" stroke="#00ff00" stroke-width="0.55"/>
<rect x="480.70" y="92.49" width="3.10" height="3.10" fill="none" stroke="#00ff00" stroke-width="0.55"/>
<rect x="481.95" y="93.42" width="3.10" height="3.10" fill="none" stroke="#00ff00" stroke-width="0.55"/>
<rect x="483.20" y="94.71" width="3.10" height="3.10" fill="none" stroke="#00ff00" stroke-width="0.55"/>
<rect x="484.45" y="95.44" width="3.10" height="3.10" fill="none" stroke="#00ff00" stroke-width="0.55"/>
<rect x="485.70" y="96.65" width="3.10" height="3.10" fill="none" stroke="#00ff00" stroke-width="0.55"/>
<rect x="486.95" y="97.59" width="3.10" height="3.10" fill="none" stroke="#00ff00" stroke-width="0.55"/>
<rect x="488.20" y="98.67" width="3.10" height="3.10" fill="none" stroke="#00ff00" stroke-width="0.55"/>
<rect x="486.45" y="97.26" width="3.10" height="3.10" fill="none" stroke="#00ff00" stroke-width="0.55"/>
<rect x="487.05" y="97.72" width="3.10" height="3.10" fill="none" stroke="#00ff00" stroke-width="0.55"/>
<rect x="491.45" y="101.42" width="3.10" height="3.10" fill="none" stroke="#00ff00" stroke-width="0.55"/>
<rect x="491.95" y="101.66" width="3.10" height="3.10" fill="none" stroke="#00ff00" stroke-width="0.55"/>
<rect x="494.95" y="104.17" width="3.10" height="3.10" fill="none" stroke="#00ff00" stroke-width="0.55"/>
<rect x="498.45" y="107.26" width="3.10" height="3.10" fill="none" stroke="#00ff00" stroke-width="0.55"/>
<rect x="504.15" y="111.88" width="3.10" height="3.10" fill="none" stroke="#00ff00" stroke-width="0.55"/>
<rect x="506.05" y="113.46" width="3.10" height="3.10" fill="none" stroke="#00ff00" stroke-width="0.55"/>
<rect x="506.65" y="113.93" width="3.10" height="3.10" fill="none" stroke="#00ff00" stroke-width="0.55"/>
<rect x="508.45" y="115.65" width="3.10" height="3.10" fill="none" stroke="#00ff00" stroke-width="0.55"/>
<rect x="509.05" y="116.11" width="3.10" height="3.10" fill="none" stroke="#00ff00" stroke-width="0.55"/>
<rect x="515.75" y="121.75" width="3.10" height="3.10" fill="none" stroke="#00ff00" stroke-width="0.55"/>
<rect x="516.25" y="121.98" width="3.10" height="3.10" fill="none" stroke="#00ff00" stroke-width="0.55"/>
<rect x="520.55" y="125.64" width="3.10" height="3.10" fill="none" stroke="#00ff00" stroke-width="0.55"/>
<rect x="528.45" y="132.25" width="3.10" height="3.10" fill="none" stroke="#00ff00" stroke-width="0.55"/>
</g>
<rect x="408.70" y="30.0" width="2.6" height="3.9" fill="#8dff8d"/>
<rect x="409.00" y="30.2" width="1.9" height="3.5" fill="none" stroke="#3dff3d" stroke-width="0.5"/>
<rect x="494.20" y="16.80" width="43.80" height="10.00" fill="#fff" stroke="#777" stroke-width="0.7"/>
<rect x="499.45" y="20.25" width="3.10" height="3.10" fill="none" stroke="#00ff00" stroke-width="0.50"/>
<text x="507.60" y="24.20" font-size="7.6" textLength="29.10" lengthAdjust="spacingAndGlyphs" fill="#111">MOGWO</text>
</g>
<g>
<rect x="38.50" y="170.80" width="132.30" height="125.40" fill="#fff" stroke="#bbbbbb" stroke-width="1.25"/>
<text x="38.50" y="307.30" font-size="7.85" text-anchor="middle" fill="#262626">29.1</text>
<text x="64.96" y="307.30" font-size="7.85" text-anchor="middle" fill="#262626">29.15</text>
<text x="91.42" y="307.30" font-size="7.85" text-anchor="middle" fill="#262626">29.2</text>
<text x="117.88" y="307.30" font-size="7.85" text-anchor="middle" fill="#262626">29.25</text>
<text x="144.34" y="307.30" font-size="7.85" text-anchor="middle" fill="#262626">29.3</text>
<text x="170.80" y="307.30" font-size="7.85" text-anchor="middle" fill="#262626">29.35</text>
<text x="35.30" y="299.00" font-size="7.85" text-anchor="end" fill="#262626">0.475</text>
<text x="35.30" y="273.92" font-size="7.85" text-anchor="end" fill="#262626">0.4755</text>
<text x="35.30" y="248.84" font-size="7.85" text-anchor="end" fill="#262626">0.476</text>
<text x="35.30" y="223.76" font-size="7.85" text-anchor="end" fill="#262626">0.4765</text>
<text x="35.30" y="198.68" font-size="7.85" text-anchor="end" fill="#262626">0.477</text>
<text x="35.30" y="173.60" font-size="7.85" text-anchor="end" fill="#262626">0.4775</text>
<path d="M38.50 296.20v-1.40M38.50 170.80v1.40M64.96 296.20v-1.40M64.96 170.80v1.40M91.42 296.20v-1.40M91.42 170.80v1.40M117.88 296.20v-1.40M117.88 170.80v1.40M144.34 296.20v-1.40M144.34 170.80v1.40M170.80 296.20v-1.40M170.80 170.80v1.40M38.50 296.20h1.40M170.80 296.20h-1.40M38.50 271.12h1.40M170.80 271.12h-1.40M38.50 246.04h1.40M170.80 246.04h-1.40M38.50 220.96h1.40M170.80 220.96h-1.40M38.50 195.88h1.40M170.80 195.88h-1.40M38.50 170.80h1.40M170.80 170.80h-1.40" stroke="#555" stroke-width="0.5" fill="none"/>
<text x="104.35" y="166.80" font-size="8.75" text-anchor="middle" fill="#000" style="stroke-width:0.2px">Pareto front</text>
<text x="82.40" y="318.30" font-size="9.20" font-style="italic" fill="#111" style="stroke-width:0.25px">f</text>
<text x="85.50" y="319.90" font-size="6.00" fill="#111">1</text>
<text x="90.70" y="318.30" font-size="8.00" fill="#262626">(MW)</text>
<text transform="translate(11.00 239.60) rotate(-90) skewX(-7)" font-size="10.80" text-anchor="middle" fill="#111" style="stroke-width:0.25px"><tspan font-style="italic">f</tspan><tspan font-size="7.00" dy="2.1">2</tspan></text>
<clipPath id="c38"><rect x="38.50" y="170.80" width="132.30" height="125.40"/></clipPath>
<g clip-path="url(#c38)">
<polygon points="44.85,189.51 49.35,189.51 47.10,193.79" fill="none" stroke="#0000ff" stroke-width="0.50"/>
<polygon points="47.82,192.04 51.42,192.04 49.62,195.46" fill="none" stroke="#0000ff" stroke-width="0.50"/>
<polygon points="48.08,192.22 51.68,192.22 49.88,195.64" fill="none" stroke="#0000ff" stroke-width="0.50"/>
<polygon points="49.11,193.13 52.71,193.13 50.91,196.55" fill="none" stroke="#0000ff" stroke-width="0.50"/>
<polygon points="49.31,193.37 52.91,193.37 51.11,196.79" fill="none" stroke="#0000ff" stroke-width="0.50"/>
<polygon points="49.68,193.51 53.28,193.51 51.48,196.93" fill="none" stroke="#0000ff" stroke-width="0.50"/>
<polygon points="49.75,193.56 53.35,193.56 51.55,196.98" fill="none" stroke="#0000ff" stroke-width="0.50"/>
<polygon points="49.76,193.60 53.36,193.60 51.56,197.02" fill="none" stroke="#0000ff" stroke-width="0.50"/>
<polygon points="49.91,193.63 53.51,193.63 51.71,197.05" fill="none" stroke="#0000ff" stroke-width="0.50"/>
<polygon points="50.51,194.37 54.11,194.37 52.31,197.79" fill="none" stroke="#0000ff" stroke-width="0.50"/>
<polygon points="53.17,196.66 56.77,196.66 54.97,200.08" fill="none" stroke="#0000ff" stroke-width="0.50"/>
<polygon points="53.25,196.63 56.85,196.63 55.05,200.05" fill="none" stroke="#0000ff" stroke-width="0.50"/>
<polygon points="53.41,196.75 57.01,196.75 55.21,200.17" fill="none" stroke="#0000ff" stroke-width="0.50"/>
<polygon points="53.86,197.16 57.46,197.16 55.66,200.58" fill="none" stroke="#0000ff" stroke-width="0.50"/>
<polygon points="54.98,197.98 58.58,197.98 56.78,201.40" fill="none" stroke="#0000ff" stroke-width="0.50"/>
<polygon points="55.25,198.38 58.85,198.38 57.05,201.80" fill="none" stroke="#0000ff" stroke-width="0.50"/>
<polygon points="55.92,198.93 59.52,198.93 57.72,202.35" fill="none" stroke="#0000ff" stroke-width="0.50"/>
<polygon points="57.87,200.52 61.47,200.52 59.67,203.94" fill="none" stroke="#0000ff" stroke-width="0.50"/>
<polygon points="57.98,200.59 61.58,200.59 59.78,204.01" fill="none" stroke="#0000ff" stroke-width="0.50"/>
<polygon points="59.57,201.71 63.17,201.71 61.37,205.13" fill="none" stroke="#0000ff" stroke-width="0.50"/>
<polygon points="59.72,202.04 63.32,202.04 61.52,205.46" fill="none" stroke="#0000ff" stroke-width="0.50"/>
<polygon points="59.74,202.16 63.34,202.16 61.54,205.58" fill="none" stroke="#0000ff" stroke-width="0.50"/>
<polygon points="61.30,203.59 64.90,203.59 63.10,207.01" fill="none" stroke="#0000ff" stroke-width="0.50"/>
<polygon points="62.38,204.17 65.98,204.17 64.18,207.59" fill="none" stroke="#0000ff" stroke-width="0.50"/>
<polygon points="62.41,204.54 66.01,204.54 64.21,207.96" fill="none" stroke="#0000ff" stroke-width="0.50"/>
<polygon points="62.54,204.60 66.14,204.60 64.34,208.02" fill="none" stroke="#0000ff" stroke-width="0.50"/>
<polygon points="62.55,204.62 66.15,204.62 64.35,208.04" fill="none" stroke="#0000ff" stroke-width="0.50"/>
<polygon points="62.72,204.71 66.32,204.71 64.52,208.13" fill="none" stroke="#0000ff" stroke-width="0.50"/>
<polygon points="62.78,204.73 66.38,204.73 64.58,208.15" fill="none" stroke="#0000ff" stroke-width="0.50"/>
<polygon points="63.24,205.18 66.84,205.18 65.04,208.60" fill="none" stroke="#0000ff" stroke-width="0.50"/>
<polygon points="63.48,205.13 67.08,205.13 65.28,208.55" fill="none" stroke="#0000ff" stroke-width="0.50"/>
<polygon points="63.90,205.86 67.50,205.86 65.70,209.28" fill="none" stroke="#0000ff" stroke-width="0.50"/>
<polygon points="64.40,206.06 68.00,206.06 66.20,209.48" fill="none" stroke="#0000ff" stroke-width="0.50"/>
<polygon points="66.20,207.79 69.80,207.79 68.00,211.21" fill="none" stroke="#0000ff" stroke-width="0.50"/>
<polygon points="66.96,208.31 70.56,208.31 68.76,211.73" fill="none" stroke="#0000ff" stroke-width="0.50"/>
<polygon points="67.23,208.50 70.83,208.50 69.03,211.92" fill="none" stroke="#0000ff" stroke-width="0.50"/>
<polygon points="67.93,208.98 71.53,208.98 69.73,212.40" fill="none" stroke="#0000ff" stroke-width="0.50"/>
<polygon points="68.45,209.72 72.05,209.72 70.25,213.14" fill="none" stroke="#0000ff" stroke-width="0.50"/>
<polygon points="69.21,210.01 72.81,210.01 71.01,213.43" fill="none" stroke="#0000ff" stroke-width="0.50"/>
<polygon points="69.50,210.45 73.10,210.45 71.30,213.87" fill="none" stroke="#0000ff" stroke-width="0.50"/>
<polygon points="70.28,211.33 73.88,211.33 72.08,214.75" fill="none" stroke="#0000ff" stroke-width="0.50"/>
<polygon points="70.47,211.28 74.07,211.28 72.27,214.70" fill="none" stroke="#0000ff" stroke-width="0.50"/>
<polygon points="70.56,211.31 74.16,211.31 72.36,214.73" fill="none" stroke="#0000ff" stroke-width="0.50"/>
<polygon points="70.95,211.66 74.55,211.66 72.75,215.08" fill="none" stroke="#0000ff" stroke-width="0.50"/>
<polygon points="71.25,211.98 74.85,211.98 73.05,215.40" fill="none" stroke="#0000ff" stroke-width="0.50"/>
<polygon points="71.57,212.44 75.17,212.44 73.37,215.86" fill="none" stroke="#0000ff" stroke-width="0.50"/>
<polygon points="71.61,212.24 75.21,212.24 73.41,215.66" fill="none" stroke="#0000ff" stroke-width="0.50"/>
<polygon points="72.58,212.89 76.18,212.89 74.38,216.31" fill="none" stroke="#0000ff" stroke-width="0.50"/>
<polygon points="74.08,214.23 77.68,214.23 75.88,217.65" fill="none" stroke="#0000ff" stroke-width="0.50"/>
<polygon points="74.71,214.93 78.31,214.93 76.51,218.35" fill="none" stroke="#0000ff" stroke-width="0.50"/>
<polygon points="74.79,214.99 78.39,214.99 76.59,218.41" fill="none" stroke="#0000ff" stroke-width="0.50"/>
<polygon points="74.95,215.17 78.55,215.17 76.75,218.59" fill="none" stroke="#0000ff" stroke-width="0.50"/>
<polygon points="74.96,215.23 78.56,215.23 76.76,218.65" fill="none" stroke="#0000ff" stroke-width="0.50"/>
<polygon points="75.40,215.44 79.00,215.44 77.20,218.86" fill="none" stroke="#0000ff" stroke-width="0.50"/>
<polygon points="76.27,216.28 79.87,216.28 78.07,219.70" fill="none" stroke="#0000ff" stroke-width="0.50"/>
<polygon points="76.47,216.38 80.07,216.38 78.27,219.80" fill="none" stroke="#0000ff" stroke-width="0.50"/>
<polygon points="76.66,216.61 80.26,216.61 78.46,220.03" fill="none" stroke="#0000ff" stroke-width="0.50"/>
<polygon points="76.97,216.62 80.57,216.62 78.77,220.04" fill="none" stroke="#0000ff" stroke-width="0.50"/>
<polygon points="77.00,216.96 80.60,216.96 78.80,220.38" fill="none" stroke="#0000ff" stroke-width="0.50"/>
<polygon points="77.11,216.70 80.71,216.70 78.91,220.12" fill="none" stroke="#0000ff" stroke-width="0.50"/>
<polygon points="77.18,216.94 80.78,216.94 78.98,220.36" fill="none" stroke="#0000ff" stroke-width="0.50"/>
<polygon points="77.53,217.37 81.13,217.37 79.33,220.79" fill="none" stroke="#0000ff" stroke-width="0.50"/>
<polygon points="77.79,217.67 81.39,217.67 79.59,221.09" fill="none" stroke="#0000ff" stroke-width="0.50"/>
<polygon points="78.14,217.86 81.74,217.86 79.94,221.28" fill="none" stroke="#0000ff" stroke-width="0.50"/>
<polygon points="78.34,218.02 81.94,218.02 80.14,221.44" fill="none" stroke="#0000ff" stroke-width="0.50"/>
<polygon points="78.88,218.51 82.48,218.51 80.68,221.93" fill="none" stroke="#0000ff" stroke-width="0.50"/>
<polygon points="80.06,219.55 83.66,219.55 81.86,222.97" fill="none" stroke="#0000ff" stroke-width="0.50"/>
<polygon points="80.13,219.35 83.73,219.35 81.93,222.77" fill="none" stroke="#0000ff" stroke-width="0.50"/>
<polygon points="80.54,219.78 84.14,219.78 82.34,223.20" fill="none" stroke="#0000ff" stroke-width="0.50"/>
<polygon points="80.55,219.80 84.15,219.80 82.35,223.22" fill="none" stroke="#0000ff" stroke-width="0.50"/>
<polygon points="80.90,220.23 84.50,220.23 82.70,223.65" fill="none" stroke="#0000ff" stroke-width="0.50"/>
<polygon points="81.91,221.08 85.51,221.08 83.71,224.50" fill="none" stroke="#0000ff" stroke-width="0.50"/>
<polygon points="82.17,221.25 85.77,221.25 83.97,224.67" fill="none" stroke="#0000ff" stroke-width="0.50"/>
<polygon points="83.51,222.45 87.11,222.45 85.31,225.87" fill="none" stroke="#0000ff" stroke-width="0.50"/>
<polygon points="84.63,223.21 88.23,223.21 86.43,226.63" fill="none" stroke="#0000ff" stroke-width="0.50"/>
<polygon points="84.65,223.41 88.25,223.41 86.45,226.83" fill="none" stroke="#0000ff" stroke-width="0.50"/>
<polygon points="85.26,223.79 88.86,223.79 87.06,227.21" fill="none" stroke="#0000ff" stroke-width="0.50"/>
<polygon points="86.02,224.59 89.62,224.59 87.82,228.01" fill="none" stroke="#0000ff" stroke-width="0.50"/>
<polygon points="86.12,224.64 89.72,224.64 87.92,228.06" fill="none" stroke="#0000ff" stroke-width="0.50"/>
<polygon points="86.64,225.00 90.24,225.00 88.44,228.42" fill="none" stroke="#0000ff" stroke-width="0.50"/>
<polygon points="87.02,225.37 90.62,225.37 88.82,228.79" fill="none" stroke="#0000ff" stroke-width="0.50"/>
<polygon points="88.57,226.84 92.17,226.84 90.37,230.26" fill="none" stroke="#0000ff" stroke-width="0.50"/>
<polygon points="90.40,228.32 94.00,228.32 92.20,231.74" fill="none" stroke="#0000ff" stroke-width="0.50"/>
<polygon points="90.94,228.60 94.54,228.60 92.74,232.02" fill="none" stroke="#0000ff" stroke-width="0.50"/>
<polygon points="91.04,228.65 94.64,228.65 92.84,232.07" fill="none" stroke="#0000ff" stroke-width="0.50"/>
<polygon points="91.83,229.28 95.43,229.28 93.63,232.70" fill="none" stroke="#0000ff" stroke-width="0.50"/>
<polygon points="92.38,229.98 95.98,229.98 94.18,233.40" fill="none" stroke="#0000ff" stroke-width="0.50"/>
<polygon points="92.55,229.89 96.15,229.89 94.35,233.31" fill="none" stroke="#0000ff" stroke-width="0.50"/>
<polygon points="92.96,230.46 96.56,230.46 94.76,233.88" fill="none" stroke="#0000ff" stroke-width="0.50"/>
<polygon points="94.47,231.62 98.07,231.62 96.27,235.04" fill="none" stroke="#0000ff" stroke-width="0.50"/>
<polygon points="95.89,233.15 99.49,233.15 97.69,236.57" fill="none" stroke="#0000ff" stroke-width="0.50"/>
<polygon points="97.57,234.36 101.17,234.36 99.37,237.78" fill="none" stroke="#0000ff" stroke-width="0.50"/>
<polygon points="97.92,234.58 101.52,234.58 99.72,238.00" fill="none" stroke="#0000ff" stroke-width="0.50"/>
<polygon points="98.62,235.03 102.22,235.03 100.42,238.45" fill="none" stroke="#0000ff" stroke-width="0.50"/>
<polygon points="98.77,235.40 102.37,235.40 100.57,238.82" fill="none" stroke="#0000ff" stroke-width="0.50"/>
<polygon points="98.78,235.41 102.38,235.41 100.58,238.83" fill="none" stroke="#0000ff" stroke-width="0.50"/>
<polygon points="99.70,236.30 103.30,236.30 101.50,239.72" fill="none" stroke="#0000ff" stroke-width="0.50"/>
<polygon points="99.76,236.29 103.36,236.29 101.56,239.71" fill="none" stroke="#0000ff" stroke-width="0.50"/>
<polygon points="100.35,236.69 103.95,236.69 102.15,240.11" fill="none" stroke="#0000ff" stroke-width="0.50"/>
<polygon points="101.20,237.44 104.80,237.44 103.00,240.86" fill="none" stroke="#0000ff" stroke-width="0.50"/>
<polygon points="101.35,237.57 104.95,237.57 103.15,240.99" fill="none" stroke="#0000ff" stroke-width="0.50"/>
<polygon points="101.86,238.06 105.46,238.06 103.66,241.48" fill="none" stroke="#0000ff" stroke-width="0.50"/>
<polygon points="102.78,239.02 106.38,239.02 104.58,242.44" fill="none" stroke="#0000ff" stroke-width="0.50"/>
<polygon points="103.14,239.01 106.74,239.01 104.94,242.43" fill="none" stroke="#0000ff" stroke-width="0.50"/>
<polygon points="103.66,239.29 107.26,239.29 105.46,242.71" fill="none" stroke="#0000ff" stroke-width="0.50"/>
<polygon points="103.78,239.57 107.38,239.57 105.58,242.99" fill="none" stroke="#0000ff" stroke-width="0.50"/>
<polygon points="104.54,240.42 108.14,240.42 106.34,243.84" fill="none" stroke="#0000ff" stroke-width="0.50"/>
<polygon points="104.69,240.28 108.29,240.28 106.49,243.70" fill="none" stroke="#0000ff" stroke-width="0.50"/>
<polygon points="104.89,240.69 108.49,240.69 106.69,244.11" fill="none" stroke="#0000ff" stroke-width="0.50"/>
<polygon points="105.22,240.74 108.82,240.74 107.02,244.16" fill="none" stroke="#0000ff" stroke-width="0.50"/>
<polygon points="105.59,241.29 109.19,241.29 107.39,244.71" fill="none" stroke="#0000ff" stroke-width="0.50"/>
<polygon points="105.73,241.25 109.33,241.25 107.53,244.67" fill="none" stroke="#0000ff" stroke-width="0.50"/>
<polygon points="106.12,241.75 109.72,241.75 107.92,245.17" fill="none" stroke="#0000ff" stroke-width="0.50"/>
<polygon points="106.22,241.67 109.82,241.67 108.02,245.09" fill="none" stroke="#0000ff" stroke-width="0.50"/>
<polygon points="106.43,241.76 110.03,241.76 108.23,245.18" fill="none" stroke="#0000ff" stroke-width="0.50"/>
<polygon points="107.04,242.26 110.64,242.26 108.84,245.68" fill="none" stroke="#0000ff" stroke-width="0.50"/>
<polygon points="107.36,242.69 110.96,242.69 109.16,246.11" fill="none" stroke="#0000ff" stroke-width="0.50"/>
<polygon points="107.40,242.80 111.00,242.80 109.20,246.22" fill="none" stroke="#0000ff" stroke-width="0.50"/>
<polygon points="107.96,243.21 111.56,243.21 109.76,246.63" fill="none" stroke="#0000ff" stroke-width="0.50"/>
<polygon points="108.34,243.53 111.94,243.53 110.14,246.95" fill="none" stroke="#0000ff" stroke-width="0.50"/>
<polygon points="109.93,244.90 113.53,244.90 111.73,248.32" fill="none" stroke="#0000ff" stroke-width="0.50"/>
<polygon points="110.13,245.12 113.73,245.12 111.93,248.54" fill="none" stroke="#0000ff" stroke-width="0.50"/>
<polygon points="110.36,245.30 113.96,245.30 112.16,248.72" fill="none" stroke="#0000ff" stroke-width="0.50"/>
<polygon points="110.84,245.62 114.44,245.62 112.64,249.04" fill="none" stroke="#0000ff" stroke-width="0.50"/>
<polygon points="110.98,245.92 114.58,245.92 112.78,249.34" fill="none" stroke="#0000ff" stroke-width="0.50"/>
<polygon points="111.18,245.98 114.78,245.98 112.98,249.40" fill="none" stroke="#0000ff" stroke-width="0.50"/>
<polygon points="112.03,246.61 115.63,246.61 113.83,250.03" fill="none" stroke="#0000ff" stroke-width="0.50"/>
<polygon points="112.35,247.15 115.95,247.15 114.15,250.57" fill="none" stroke="#0000ff" stroke-width="0.50"/>
<polygon points="113.58,248.10 117.18,248.10 115.38,251.52" fill="none" stroke="#0000ff" stroke-width="0.50"/>
<polygon points="113.79,248.29 117.39,248.29 115.59,251.71" fill="none" stroke="#0000ff" stroke-width="0.50"/>
<polygon points="114.14,248.49 117.74,248.49 115.94,251.91" fill="none" stroke="#0000ff" stroke-width="0.50"/>
<polygon points="114.45,248.70 118.05,248.70 116.25,252.12" fill="none" stroke="#0000ff" stroke-width="0.50"/>
<polygon points="117.60,251.42 121.20,251.42 119.40,254.84" fill="none" stroke="#0000ff" stroke-width="0.50"/>
<polygon points="118.78,252.43 122.38,252.43 120.58,255.85" fill="none" stroke="#0000ff" stroke-width="0.50"/>
<polygon points="118.83,252.39 122.43,252.39 120.63,255.81" fill="none" stroke="#0000ff" stroke-width="0.50"/>
<polygon points="119.58,253.24 123.18,253.24 121.38,256.66" fill="none" stroke="#0000ff" stroke-width="0.50"/>
<polygon points="119.76,253.21 123.36,253.21 121.56,256.63" fill="none" stroke="#0000ff" stroke-width="0.50"/>
<polygon points="120.58,254.17 124.18,254.17 122.38,257.59" fill="none" stroke="#0000ff" stroke-width="0.50"/>
<polygon points="122.17,255.27 125.77,255.27 123.97,258.69" fill="none" stroke="#0000ff" stroke-width="0.50"/>
<polygon points="122.20,255.33 125.80,255.33 124.00,258.75" fill="none" stroke="#0000ff" stroke-width="0.50"/>
<polygon points="122.51,255.76 126.11,255.76 124.31,259.18" fill="none" stroke="#0000ff" stroke-width="0.50"/>
<polygon points="123.67,256.61 127.27,256.61 125.47,260.03" fill="none" stroke="#0000ff" stroke-width="0.50"/>
<polygon points="123.84,256.79 127.44,256.79 125.64,260.21" fill="none" stroke="#0000ff" stroke-width="0.50"/>
<polygon points="125.07,257.71 128.67,257.71 126.87,261.13" fill="none" stroke="#0000ff" stroke-width="0.50"/>
<polygon points="125.62,258.36 129.22,258.36 127.42,261.78" fill="none" stroke="#0000ff" stroke-width="0.50"/>
<polygon points="125.67,258.35 129.27,258.35 127.47,261.77" fill="none" stroke="#0000ff" stroke-width="0.50"/>
<polygon points="126.12,258.68 129.72,258.68 127.92,262.10" fill="none" stroke="#0000ff" stroke-width="0.50"/>
<polygon points="126.19,258.65 129.79,258.65 127.99,262.07" fill="none" stroke="#0000ff" stroke-width="0.50"/>
<polygon points="126.25,258.83 129.85,258.83 128.05,262.25" fill="none" stroke="#0000ff" stroke-width="0.50"/>
<polygon points="127.06,259.54 130.66,259.54 128.86,262.96" fill="none" stroke="#0000ff" stroke-width="0.50"/>
<polygon points="127.39,259.82 130.99,259.82 129.19,263.24" fill="none" stroke="#0000ff" stroke-width="0.50"/>
<polygon points="127.77,260.28 131.37,260.28 129.57,263.70" fill="none" stroke="#0000ff" stroke-width="0.50"/>
<polygon points="129.52,261.69 133.12,261.69 131.32,265.11" fill="none" stroke="#0000ff" stroke-width="0.50"/>
<polygon points="129.75,261.80 133.35,261.80 131.55,265.22" fill="none" stroke="#0000ff" stroke-width="0.50"/>
<polygon points="129.82,262.01 133.42,262.01 131.62,265.43" fill="none" stroke="#0000ff" stroke-width="0.50"/>
<polygon points="130.33,262.34 133.93,262.34 132.13,265.76" fill="none" stroke="#0000ff" stroke-width="0.50"/>
<polygon points="130.68,262.56 134.28,262.56 132.48,265.98" fill="none" stroke="#0000ff" stroke-width="0.50"/>
<polygon points="130.76,262.68 134.36,262.68 132.56,266.10" fill="none" stroke="#0000ff" stroke-width="0.50"/>
<polygon points="131.18,262.99 134.78,262.99 132.98,266.41" fill="none" stroke="#0000ff" stroke-width="0.50"/>
<polygon points="132.64,264.18 136.24,264.18 134.44,267.60" fill="none" stroke="#0000ff" stroke-width="0.50"/>
<polygon points="132.74,264.29 136.34,264.29 134.54,267.71" fill="none" stroke="#0000ff" stroke-width="0.50"/>
<polygon points="133.75,265.30 137.35,265.30 135.55,268.72" fill="none" stroke="#0000ff" stroke-width="0.50"/>
<polygon points="134.60,265.96 138.20,265.96 136.40,269.38" fill="none" stroke="#0000ff" stroke-width="0.50"/>
<polygon points="135.20,266.53 138.80,266.53 137.00,269.95" fill="none" stroke="#0000ff" stroke-width="0.50"/>
<polygon points="136.52,267.64 140.12,267.64 138.32,271.06" fill="none" stroke="#0000ff" stroke-width="0.50"/>
<polygon points="137.11,267.99 140.71,267.99 138.91,271.41" fill="none" stroke="#0000ff" stroke-width="0.50"/>
<polygon points="138.52,269.46 142.12,269.46 140.32,272.88" fill="none" stroke="#0000ff" stroke-width="0.50"/>
<polygon points="138.87,269.58 142.47,269.58 140.67,273.00" fill="none" stroke="#0000ff" stroke-width="0.50"/>
<polygon points="139.08,269.87 142.68,269.87 140.88,273.29" fill="none" stroke="#0000ff" stroke-width="0.50"/>
<polygon points="139.70,270.14 143.30,270.14 141.50,273.56" fill="none" stroke="#0000ff" stroke-width="0.50"/>
<polygon points="140.49,271.07 144.09,271.07 142.29,274.49" fill="none" stroke="#0000ff" stroke-width="0.50"/>
<polygon points="141.30,271.74 144.90,271.74 143.10,275.16" fill="none" stroke="#0000ff" stroke-width="0.50"/>
<polygon points="141.33,271.50 144.93,271.50 143.13,274.92" fill="none" stroke="#0000ff" stroke-width="0.50"/>
<polygon points="142.02,272.32 145.62,272.32 143.82,275.74" fill="none" stroke="#0000ff" stroke-width="0.50"/>
<polygon points="142.26,272.38 145.86,272.38 144.06,275.80" fill="none" stroke="#0000ff" stroke-width="0.50"/>
<polygon points="142.77,272.91 146.37,272.91 144.57,276.33" fill="none" stroke="#0000ff" stroke-width="0.50"/>
<polygon points="142.87,272.91 146.47,272.91 144.67,276.33" fill="none" stroke="#0000ff" stroke-width="0.50"/>
<polygon points="142.90,273.18 146.50,273.18 144.70,276.60" fill="none" stroke="#0000ff" stroke-width="0.50"/>
<polygon points="145.45,275.11 149.05,275.11 147.25,278.53" fill="none" stroke="#0000ff" stroke-width="0.50"/>
<polygon points="146.33,276.04 149.93,276.04 148.13,279.46" fill="none" stroke="#0000ff" stroke-width="0.50"/>
<polygon points="147.89,277.45 151.49,277.45 149.69,280.87" fill="none" stroke="#0000ff" stroke-width="0.50"/>
<polygon points="148.18,277.41 151.78,277.41 149.98,280.83" fill="none" stroke="#0000ff" stroke-width="0.50"/>
<polygon points="148.76,278.06 152.36,278.06 150.56,281.48" fill="none" stroke="#0000ff" stroke-width="0.50"/>
<polygon points="148.95,278.19 152.55,278.19 150.75,281.61" fill="none" stroke="#0000ff" stroke-width="0.50"/>
<polygon points="149.33,278.59 152.93,278.59 151.13,282.01" fill="none" stroke="#0000ff" stroke-width="0.50"/>
<polygon points="149.85,278.87 153.45,278.87 151.65,282.29" fill="none" stroke="#0000ff" stroke-width="0.50"/>
<polygon points="150.16,279.01 153.76,279.01 151.96,282.43" fill="none" stroke="#0000ff" stroke-width="0.50"/>
<polygon points="150.22,279.30 153.82,279.30 152.02,282.72" fill="none" stroke="#0000ff" stroke-width="0.50"/>
<polygon points="150.35,279.30 153.95,279.30 152.15,282.72" fill="none" stroke="#0000ff" stroke-width="0.50"/>
<polygon points="150.38,279.40 153.98,279.40 152.18,282.82" fill="none" stroke="#0000ff" stroke-width="0.50"/>
<polygon points="150.80,279.69 154.40,279.69 152.60,283.11" fill="none" stroke="#0000ff" stroke-width="0.50"/>
<polygon points="151.08,279.93 154.68,279.93 152.88,283.35" fill="none" stroke="#0000ff" stroke-width="0.50"/>
<polygon points="152.69,281.36 156.29,281.36 154.49,284.78" fill="none" stroke="#0000ff" stroke-width="0.50"/>
<polygon points="153.48,281.85 157.08,281.85 155.28,285.27" fill="none" stroke="#0000ff" stroke-width="0.50"/>
<polygon points="153.60,282.24 157.20,282.24 155.40,285.66" fill="none" stroke="#0000ff" stroke-width="0.50"/>
<polygon points="153.70,282.23 157.30,282.23 155.50,285.65" fill="none" stroke="#0000ff" stroke-width="0.50"/>
<polygon points="154.28,282.56 157.88,282.56 156.08,285.98" fill="none" stroke="#0000ff" stroke-width="0.50"/>
<polygon points="154.37,282.73 157.97,282.73 156.17,286.15" fill="none" stroke="#0000ff" stroke-width="0.50"/>
<polygon points="154.45,282.67 158.05,282.67 156.25,286.09" fill="none" stroke="#0000ff" stroke-width="0.50"/>
<polygon points="155.62,283.77 159.22,283.77 157.42,287.19" fill="none" stroke="#0000ff" stroke-width="0.50"/>
<polygon points="155.65,283.98 159.25,283.98 157.45,287.40" fill="none" stroke="#0000ff" stroke-width="0.50"/>
<polygon points="156.67,284.88 160.27,284.88 158.47,288.30" fill="none" stroke="#0000ff" stroke-width="0.50"/>
<polygon points="157.11,285.10 160.71,285.10 158.91,288.52" fill="none" stroke="#0000ff" stroke-width="0.50"/>
<polygon points="157.79,285.87 161.39,285.87 159.59,289.29" fill="none" stroke="#0000ff" stroke-width="0.50"/>
<polygon points="158.31,286.32 161.91,286.32 160.11,289.74" fill="none" stroke="#0000ff" stroke-width="0.50"/>
<polygon points="158.77,286.70 162.37,286.70 160.57,290.12" fill="none" stroke="#0000ff" stroke-width="0.50"/>
<polygon points="159.01,286.65 162.61,286.65 160.81,290.07" fill="none" stroke="#0000ff" stroke-width="0.50"/>
<polygon points="159.31,287.07 162.91,287.07 161.11,290.49" fill="none" stroke="#0000ff" stroke-width="0.50"/>
<polygon points="159.85,287.54 163.45,287.54 161.65,290.96" fill="none" stroke="#0000ff" stroke-width="0.50"/>
<polygon points="160.60,288.06 164.20,288.06 162.40,291.48" fill="none" stroke="#0000ff" stroke-width="0.50"/>
<polygon points="160.86,288.41 164.46,288.41 162.66,291.83" fill="none" stroke="#0000ff" stroke-width="0.50"/>
</g>
<rect x="128.20" y="174.00" width="39.60" height="10.20" fill="#fff" stroke="#777" stroke-width="0.7"/>
<polygon points="132.64,177.68 136.96,177.68 134.80,181.78" fill="none" stroke="#0000ff" stroke-width="0.60"/>
<text x="141.00" y="181.80" font-size="7.6" textLength="24.90" lengthAdjust="spacingAndGlyphs" fill="#111">MOPSO</text>
</g>
<g>
<rect x="219.30" y="170.80" width="141.50" height="125.40" fill="#fff" stroke="#bbbbbb" stroke-width="1.25"/>
<text x="219.30" y="306.60" font-size="8.24" text-anchor="middle" fill="#262626">24</text>
<text x="247.60" y="306.60" font-size="8.24" text-anchor="middle" fill="#262626">26</text>
<text x="275.90" y="306.60" font-size="8.24" text-anchor="middle" fill="#262626">28</text>
<text x="304.20" y="306.60" font-size="8.24" text-anchor="middle" fill="#262626">30</text>
<text x="332.50" y="306.60" font-size="8.24" text-anchor="middle" fill="#262626">32</text>
<text x="360.80" y="306.60" font-size="8.24" text-anchor="middle" fill="#262626">34</text>
<text x="216.70" y="299.20" font-size="8.24" text-anchor="end" fill="#262626">0.42</text>
<text x="216.70" y="274.12" font-size="8.24" text-anchor="end" fill="#262626">0.44</text>
<text x="216.70" y="249.04" font-size="8.24" text-anchor="end" fill="#262626">0.46</text>
<text x="216.70" y="223.96" font-size="8.24" text-anchor="end" fill="#262626">0.48</text>
<text x="216.70" y="198.88" font-size="8.24" text-anchor="end" fill="#262626">0.5</text>
<text x="216.70" y="173.80" font-size="8.24" text-anchor="end" fill="#262626">0.52</text>
<path d="M219.30 296.20v-1.40M219.30 170.80v1.40M247.60 296.20v-1.40M247.60 170.80v1.40M275.90 296.20v-1.40M275.90 170.80v1.40M304.20 296.20v-1.40M304.20 170.80v1.40M332.50 296.20v-1.40M332.50 170.80v1.40M360.80 296.20v-1.40M360.80 170.80v1.40M219.30 296.20h1.40M360.80 296.20h-1.40M219.30 271.12h1.40M360.80 271.12h-1.40M219.30 246.04h1.40M360.80 246.04h-1.40M219.30 220.96h1.40M360.80 220.96h-1.40M219.30 195.88h1.40M360.80 195.88h-1.40M219.30 170.80h1.40M360.80 170.80h-1.40" stroke="#555" stroke-width="0.5" fill="none"/>
<text x="289.75" y="167.00" font-size="9.19" text-anchor="middle" fill="#000" style="stroke-width:0.2px">Pareto front</text>
<text x="269.20" y="317.80" font-size="9.20" font-style="italic" fill="#111" style="stroke-width:0.25px">f</text>
<text x="272.30" y="319.40" font-size="6.00" fill="#111">1</text>
<text x="277.50" y="317.80" font-size="8.00" fill="#262626">(MW)</text>
<text transform="translate(196.80 237.10) rotate(-90) skewX(-7)" font-size="10.80" text-anchor="middle" fill="#111" style="stroke-width:0.25px"><tspan font-style="italic">f</tspan><tspan font-size="7.00" dy="2.1">2</tspan></text>
<clipPath id="c219"><rect x="219.30" y="170.80" width="141.50" height="125.40"/></clipPath>
<g clip-path="url(#c219)">
<path d="M233.00 177.60L236.00 180.59M233.00 180.59L236.00 177.60" stroke="#bd4f1f" stroke-width="0.60" fill="none"/>
<path d="M233.00 177.60L236.00 180.59M233.00 180.59L236.00 177.60" stroke="#bd4f1f" stroke-width="0.60" fill="none"/>
<path d="M236.89 180.15L239.49 182.75M236.89 182.75L239.49 180.15" stroke="#bd4f1f" stroke-width="0.60" fill="none"/>
<path d="M237.11 180.25L239.71 182.85M237.11 182.85L239.71 180.25" stroke="#bd4f1f" stroke-width="0.60" fill="none"/>
<path d="M237.58 180.65L240.18 183.25M237.58 183.25L240.18 180.65" stroke="#bd4f1f" stroke-width="0.60" fill="none"/>
<path d="M238.03 181.03L240.63 183.63M238.03 183.63L240.63 181.03" stroke="#bd4f1f" stroke-width="0.60" fill="none"/>
<path d="M238.66 181.58L241.26 184.18M238.66 184.18L241.26 181.58" stroke="#bd4f1f" stroke-width="0.60" fill="none"/>
<path d="M238.75 181.52L241.35 184.12M238.75 184.12L241.35 181.52" stroke="#bd4f1f" stroke-width="0.60" fill="none"/>
<path d="M238.75 181.68L241.35 184.28M238.75 184.28L241.35 181.68" stroke="#bd4f1f" stroke-width="0.60" fill="none"/>
<path d="M238.80 181.69L241.40 184.29M238.80 184.29L241.40 181.69" stroke="#bd4f1f" stroke-width="0.60" fill="none"/>
<path d="M239.00 181.81L241.60 184.41M239.00 184.41L241.60 181.81" stroke="#bd4f1f" stroke-width="0.60" fill="none"/>
<path d="M239.10 181.89L241.70 184.49M239.10 184.49L241.70 181.89" stroke="#bd4f1f" stroke-width="0.60" fill="none"/>
<path d="M239.47 182.20L242.07 184.80M239.47 184.80L242.07 182.20" stroke="#bd4f1f" stroke-width="0.60" fill="none"/>
<path d="M239.63 182.22L242.23 184.82M239.63 184.82L242.23 182.22" stroke="#bd4f1f" stroke-width="0.60" fill="none"/>
<path d="M239.79 182.41L242.39 185.01M239.79 185.01L242.39 182.41" stroke="#bd4f1f" stroke-width="0.60" fill="none"/>
<path d="M239.99 182.59L242.59 185.19M239.99 185.19L242.59 182.59" stroke="#bd4f1f" stroke-width="0.60" fill="none"/>
<path d="M240.02 182.59L242.62 185.19M240.02 185.19L242.62 182.59" stroke="#bd4f1f" stroke-width="0.60" fill="none"/>
<path d="M240.43 182.96L243.03 185.56M240.43 185.56L243.03 182.96" stroke="#bd4f1f" stroke-width="0.60" fill="none"/>
<path d="M240.44 182.96L243.04 185.56M240.44 185.56L243.04 182.96" stroke="#bd4f1f" stroke-width="0.60" fill="none"/>
<path d="M240.58 183.08L243.18 185.68M240.58 185.68L243.18 183.08" stroke="#bd4f1f" stroke-width="0.60" fill="none"/>
<path d="M240.70 183.18L243.30 185.78M240.70 185.78L243.30 183.18" stroke="#bd4f1f" stroke-width="0.60" fill="none"/>
<path d="M240.71 183.15L243.31 185.75M240.71 185.75L243.31 183.15" stroke="#bd4f1f" stroke-width="0.60" fill="none"/>
<path d="M240.80 183.22L243.40 185.82M240.80 185.82L243.40 183.22" stroke="#bd4f1f" stroke-width="0.60" fill="none"/>
<path d="M241.04 183.54L243.64 186.14M241.04 186.14L243.64 183.54" stroke="#bd4f1f" stroke-width="0.60" fill="none"/>
<path d="M241.85 184.13L244.45 186.73M241.85 186.73L244.45 184.13" stroke="#bd4f1f" stroke-width="0.60" fill="none"/>
<path d="M242.01 184.25L244.61 186.85M242.01 186.85L244.61 184.25" stroke="#bd4f1f" stroke-width="0.60" fill="none"/>
<path d="M242.52 184.64L245.12 187.24M242.52 187.24L245.12 184.64" stroke="#bd4f1f" stroke-width="0.60" fill="none"/>
<path d="M243.18 185.21L245.78 187.81M243.18 187.81L245.78 185.21" stroke="#bd4f1f" stroke-width="0.60" fill="none"/>
<path d="M243.26 185.10L245.86 187.70M243.26 187.70L245.86 185.10" stroke="#bd4f1f" stroke-width="0.60" fill="none"/>
<path d="M243.31 185.15L245.91 187.75M243.31 187.75L245.91 185.15" stroke="#bd4f1f" stroke-width="0.60" fill="none"/>
<path d="M244.53 186.29L247.13 188.89M244.53 188.89L247.13 186.29" stroke="#bd4f1f" stroke-width="0.60" fill="none"/>
<path d="M244.65 186.35L247.25 188.95M244.65 188.95L247.25 186.35" stroke="#bd4f1f" stroke-width="0.60" fill="none"/>
<path d="M245.18 186.79L247.78 189.39M245.18 189.39L247.78 186.79" stroke="#bd4f1f" stroke-width="0.60" fill="none"/>
<path d="M245.69 187.07L248.29 189.67M245.69 189.67L248.29 187.07" stroke="#bd4f1f" stroke-width="0.60" fill="none"/>
<path d="M246.39 187.74L248.99 190.34M246.39 190.34L248.99 187.74" stroke="#bd4f1f" stroke-width="0.60" fill="none"/>
<path d="M246.99 188.27L249.59 190.87M246.99 190.87L249.59 188.27" stroke="#bd4f1f" stroke-width="0.60" fill="none"/>
<path d="M247.06 188.16L249.66 190.76M247.06 190.76L249.66 188.16" stroke="#bd4f1f" stroke-width="0.60" fill="none"/>
<path d="M247.37 188.50L249.97 191.10M247.37 191.10L249.97 188.50" stroke="#bd4f1f" stroke-width="0.60" fill="none"/>
<path d="M247.48 188.59L250.08 191.19M247.48 191.19L250.08 188.59" stroke="#bd4f1f" stroke-width="0.60" fill="none"/>
<path d="M247.51 188.62L250.11 191.22M247.51 191.22L250.11 188.62" stroke="#bd4f1f" stroke-width="0.60" fill="none"/>
<path d="M247.53 188.69L250.13 191.29M247.53 191.29L250.13 188.69" stroke="#bd4f1f" stroke-width="0.60" fill="none"/>
<path d="M247.55 188.59L250.15 191.19M247.55 191.19L250.15 188.59" stroke="#bd4f1f" stroke-width="0.60" fill="none"/>
<path d="M247.73 188.77L250.33 191.37M247.73 191.37L250.33 188.77" stroke="#bd4f1f" stroke-width="0.60" fill="none"/>
<path d="M247.84 188.82L250.44 191.42M247.84 191.42L250.44 188.82" stroke="#bd4f1f" stroke-width="0.60" fill="none"/>
<path d="M248.80 189.66L251.40 192.26M248.80 192.26L251.40 189.66" stroke="#bd4f1f" stroke-width="0.60" fill="none"/>
<path d="M249.00 189.83L251.60 192.43M249.00 192.43L251.60 189.83" stroke="#bd4f1f" stroke-width="0.60" fill="none"/>
<path d="M249.13 189.96L251.73 192.56M249.13 192.56L251.73 189.96" stroke="#bd4f1f" stroke-width="0.60" fill="none"/>
<path d="M249.49 190.13L252.09 192.73M249.49 192.73L252.09 190.13" stroke="#bd4f1f" stroke-width="0.60" fill="none"/>
<path d="M249.51 190.15L252.11 192.75M249.51 192.75L252.11 190.15" stroke="#bd4f1f" stroke-width="0.60" fill="none"/>
<path d="M249.57 190.39L252.17 192.99M249.57 192.99L252.17 190.39" stroke="#bd4f1f" stroke-width="0.60" fill="none"/>
<path d="M249.76 190.41L252.36 193.01M249.76 193.01L252.36 190.41" stroke="#bd4f1f" stroke-width="0.60" fill="none"/>
<path d="M249.84 190.50L252.44 193.10M249.84 193.10L252.44 190.50" stroke="#bd4f1f" stroke-width="0.60" fill="none"/>
<path d="M250.41 190.89L253.01 193.49M250.41 193.49L253.01 190.89" stroke="#bd4f1f" stroke-width="0.60" fill="none"/>
<path d="M251.09 191.52L253.69 194.12M251.09 194.12L253.69 191.52" stroke="#bd4f1f" stroke-width="0.60" fill="none"/>
<path d="M251.15 191.65L253.75 194.25M251.15 194.25L253.75 191.65" stroke="#bd4f1f" stroke-width="0.60" fill="none"/>
<path d="M251.18 191.57L253.78 194.17M251.18 194.17L253.78 191.57" stroke="#bd4f1f" stroke-width="0.60" fill="none"/>
<path d="M251.56 191.89L254.16 194.49M251.56 194.49L254.16 191.89" stroke="#bd4f1f" stroke-width="0.60" fill="none"/>
<path d="M251.61 191.79L254.21 194.39M251.61 194.39L254.21 191.79" stroke="#bd4f1f" stroke-width="0.60" fill="none"/>
<path d="M251.91 192.10L254.51 194.70M251.91 194.70L254.51 192.10" stroke="#bd4f1f" stroke-width="0.60" fill="none"/>
<path d="M252.45 192.48L255.05 195.08M252.45 195.08L255.05 192.48" stroke="#bd4f1f" stroke-width="0.60" fill="none"/>
<path d="M252.53 192.67L255.13 195.27M252.53 195.27L255.13 192.67" stroke="#bd4f1f" stroke-width="0.60" fill="none"/>
<path d="M252.60 192.69L255.20 195.29M252.60 195.29L255.20 192.69" stroke="#bd4f1f" stroke-width="0.60" fill="none"/>
<path d="M253.11 193.08L255.71 195.68M253.11 195.68L255.71 193.08" stroke="#bd4f1f" stroke-width="0.60" fill="none"/>
<path d="M253.14 193.12L255.74 195.72M253.14 195.72L255.74 193.12" stroke="#bd4f1f" stroke-width="0.60" fill="none"/>
<path d="M253.39 193.30L255.99 195.90M253.39 195.90L255.99 193.30" stroke="#bd4f1f" stroke-width="0.60" fill="none"/>
<path d="M253.54 193.47L256.14 196.07M253.54 196.07L256.14 193.47" stroke="#bd4f1f" stroke-width="0.60" fill="none"/>
<path d="M253.91 193.64L256.51 196.24M253.91 196.24L256.51 193.64" stroke="#bd4f1f" stroke-width="0.60" fill="none"/>
<path d="M254.00 193.73L256.60 196.33M254.00 196.33L256.60 193.73" stroke="#bd4f1f" stroke-width="0.60" fill="none"/>
<path d="M254.08 193.91L256.68 196.51M254.08 196.51L256.68 193.91" stroke="#bd4f1f" stroke-width="0.60" fill="none"/>
<path d="M254.74 194.40L257.34 197.00M254.74 197.00L257.34 194.40" stroke="#bd4f1f" stroke-width="0.60" fill="none"/>
<path d="M255.03 194.61L257.63 197.21M255.03 197.21L257.63 194.61" stroke="#bd4f1f" stroke-width="0.60" fill="none"/>
<path d="M255.38 194.92L257.98 197.52M255.38 197.52L257.98 194.92" stroke="#bd4f1f" stroke-width="0.60" fill="none"/>
<path d="M255.61 195.08L258.21 197.68M255.61 197.68L258.21 195.08" stroke="#bd4f1f" stroke-width="0.60" fill="none"/>
<path d="M256.06 195.52L258.66 198.12M256.06 198.12L258.66 195.52" stroke="#bd4f1f" stroke-width="0.60" fill="none"/>
<path d="M256.27 195.60L258.87 198.20M256.27 198.20L258.87 195.60" stroke="#bd4f1f" stroke-width="0.60" fill="none"/>
<path d="M256.49 195.71L259.09 198.31M256.49 198.31L259.09 195.71" stroke="#bd4f1f" stroke-width="0.60" fill="none"/>
<path d="M256.85 196.08L259.45 198.68M256.85 198.68L259.45 196.08" stroke="#bd4f1f" stroke-width="0.60" fill="none"/>
<path d="M256.87 195.98L259.47 198.58M256.87 198.58L259.47 195.98" stroke="#bd4f1f" stroke-width="0.60" fill="none"/>
<path d="M256.94 196.19L259.54 198.79M256.94 198.79L259.54 196.19" stroke="#bd4f1f" stroke-width="0.60" fill="none"/>
<path d="M257.50 196.65L260.10 199.25M257.50 199.25L260.10 196.65" stroke="#bd4f1f" stroke-width="0.60" fill="none"/>
<path d="M257.55 196.65L260.15 199.25M257.55 199.25L260.15 196.65" stroke="#bd4f1f" stroke-width="0.60" fill="none"/>
<path d="M257.57 196.63L260.17 199.23M257.57 199.23L260.17 196.63" stroke="#bd4f1f" stroke-width="0.60" fill="none"/>
<path d="M257.66 196.71L260.26 199.31M257.66 199.31L260.26 196.71" stroke="#bd4f1f" stroke-width="0.60" fill="none"/>
<path d="M257.68 196.79L260.28 199.39M257.68 199.39L260.28 196.79" stroke="#bd4f1f" stroke-width="0.60" fill="none"/>
<path d="M257.73 196.80L260.33 199.40M257.73 199.40L260.33 196.80" stroke="#bd4f1f" stroke-width="0.60" fill="none"/>
<path d="M257.81 196.84L260.41 199.44M257.81 199.44L260.41 196.84" stroke="#bd4f1f" stroke-width="0.60" fill="none"/>
<path d="M257.90 196.87L260.50 199.47M257.90 199.47L260.50 196.87" stroke="#bd4f1f" stroke-width="0.60" fill="none"/>
<path d="M258.18 197.22L260.78 199.82M258.18 199.82L260.78 197.22" stroke="#bd4f1f" stroke-width="0.60" fill="none"/>
<path d="M258.66 197.52L261.26 200.12M258.66 200.12L261.26 197.52" stroke="#bd4f1f" stroke-width="0.60" fill="none"/>
<path d="M258.79 197.63L261.39 200.23M258.79 200.23L261.39 197.63" stroke="#bd4f1f" stroke-width="0.60" fill="none"/>
<path d="M258.85 197.70L261.45 200.30M258.85 200.30L261.45 197.70" stroke="#bd4f1f" stroke-width="0.60" fill="none"/>
<path d="M258.89 197.73L261.49 200.33M258.89 200.33L261.49 197.73" stroke="#bd4f1f" stroke-width="0.60" fill="none"/>
<path d="M259.09 197.86L261.69 200.46M259.09 200.46L261.69 197.86" stroke="#bd4f1f" stroke-width="0.60" fill="none"/>
<path d="M259.42 198.06L262.02 200.66M259.42 200.66L262.02 198.06" stroke="#bd4f1f" stroke-width="0.60" fill="none"/>
<path d="M259.55 198.25L262.15 200.85M259.55 200.85L262.15 198.25" stroke="#bd4f1f" stroke-width="0.60" fill="none"/>
<path d="M259.66 198.37L262.26 200.97M259.66 200.97L262.26 198.37" stroke="#bd4f1f" stroke-width="0.60" fill="none"/>
<path d="M259.82 198.41L262.42 201.01M259.82 201.01L262.42 198.41" stroke="#bd4f1f" stroke-width="0.60" fill="none"/>
<path d="M259.90 198.43L262.50 201.03M259.90 201.03L262.50 198.43" stroke="#bd4f1f" stroke-width="0.60" fill="none"/>
<path d="M260.32 198.88L262.92 201.48M260.32 201.48L262.92 198.88" stroke="#bd4f1f" stroke-width="0.60" fill="none"/>
<path d="M260.38 198.94L262.98 201.54M260.38 201.54L262.98 198.94" stroke="#bd4f1f" stroke-width="0.60" fill="none"/>
<path d="M260.60 199.16L263.20 201.76M260.60 201.76L263.20 199.16" stroke="#bd4f1f" stroke-width="0.60" fill="none"/>
<path d="M260.73 199.15L263.33 201.75M260.73 201.75L263.33 199.15" stroke="#bd4f1f" stroke-width="0.60" fill="none"/>
<path d="M260.78 199.24L263.38 201.84M260.78 201.84L263.38 199.24" stroke="#bd4f1f" stroke-width="0.60" fill="none"/>
<path d="M260.87 199.30L263.47 201.90M260.87 201.90L263.47 199.30" stroke="#bd4f1f" stroke-width="0.60" fill="none"/>
<path d="M261.18 199.52L263.78 202.12M261.18 202.12L263.78 199.52" stroke="#bd4f1f" stroke-width="0.60" fill="none"/>
<path d="M261.82 200.12L264.42 202.72M261.82 202.72L264.42 200.12" stroke="#bd4f1f" stroke-width="0.60" fill="none"/>
<path d="M262.00 200.28L264.60 202.88M262.00 202.88L264.60 200.28" stroke="#bd4f1f" stroke-width="0.60" fill="none"/>
<path d="M262.02 200.31L264.62 202.91M262.02 202.91L264.62 200.31" stroke="#bd4f1f" stroke-width="0.60" fill="none"/>
<path d="M262.03 200.20L264.63 202.80M262.03 202.80L264.63 200.20" stroke="#bd4f1f" stroke-width="0.60" fill="none"/>
<path d="M262.14 200.35L264.74 202.95M262.14 202.95L264.74 200.35" stroke="#bd4f1f" stroke-width="0.60" fill="none"/>
<path d="M262.68 200.66L265.28 203.26M262.68 203.26L265.28 200.66" stroke="#bd4f1f" stroke-width="0.60" fill="none"/>
<path d="M262.99 200.99L265.59 203.59M262.99 203.59L265.59 200.99" stroke="#bd4f1f" stroke-width="0.60" fill="none"/>
<path d="M263.02 201.03L265.62 203.63M263.02 203.63L265.62 201.03" stroke="#bd4f1f" stroke-width="0.60" fill="none"/>
<path d="M263.05 200.99L265.65 203.59M263.05 203.59L265.65 200.99" stroke="#bd4f1f" stroke-width="0.60" fill="none"/>
<path d="M263.33 201.23L265.93 203.83M263.33 203.83L265.93 201.23" stroke="#bd4f1f" stroke-width="0.60" fill="none"/>
<path d="M263.37 201.30L265.97 203.90M263.37 203.90L265.97 201.30" stroke="#bd4f1f" stroke-width="0.60" fill="none"/>
<path d="M263.56 201.44L266.16 204.04M263.56 204.04L266.16 201.44" stroke="#bd4f1f" stroke-width="0.60" fill="none"/>
<path d="M263.77 201.70L266.37 204.30M263.77 204.30L266.37 201.70" stroke="#bd4f1f" stroke-width="0.60" fill="none"/>
<path d="M263.84 201.58L266.44 204.18M263.84 204.18L266.44 201.58" stroke="#bd4f1f" stroke-width="0.60" fill="none"/>
<path d="M263.95 201.72L266.55 204.32M263.95 204.32L266.55 201.72" stroke="#bd4f1f" stroke-width="0.60" fill="none"/>
<path d="M264.60 202.36L267.20 204.96M264.60 204.96L267.20 202.36" stroke="#bd4f1f" stroke-width="0.60" fill="none"/>
<path d="M264.81 202.48L267.41 205.08M264.81 205.08L267.41 202.48" stroke="#bd4f1f" stroke-width="0.60" fill="none"/>
<path d="M264.88 202.53L267.48 205.13M264.88 205.13L267.48 202.53" stroke="#bd4f1f" stroke-width="0.60" fill="none"/>
<path d="M265.38 202.92L267.98 205.52M265.38 205.52L267.98 202.92" stroke="#bd4f1f" stroke-width="0.60" fill="none"/>
<path d="M265.74 203.09L268.34 205.69M265.74 205.69L268.34 203.09" stroke="#bd4f1f" stroke-width="0.60" fill="none"/>
<path d="M265.78 203.36L268.38 205.96M265.78 205.96L268.38 203.36" stroke="#bd4f1f" stroke-width="0.60" fill="none"/>
<path d="M266.16 203.55L268.76 206.15M266.16 206.15L268.76 203.55" stroke="#bd4f1f" stroke-width="0.60" fill="none"/>
<path d="M266.88 204.09L269.48 206.69M266.88 206.69L269.48 204.09" stroke="#bd4f1f" stroke-width="0.60" fill="none"/>
<path d="M266.94 204.24L269.54 206.84M266.94 206.84L269.54 204.24" stroke="#bd4f1f" stroke-width="0.60" fill="none"/>
<path d="M267.49 204.70L270.09 207.30M267.49 207.30L270.09 204.70" stroke="#bd4f1f" stroke-width="0.60" fill="none"/>
<path d="M267.62 204.68L270.22 207.28M267.62 207.28L270.22 204.68" stroke="#bd4f1f" stroke-width="0.60" fill="none"/>
<path d="M267.85 204.92L270.45 207.52M267.85 207.52L270.45 204.92" stroke="#bd4f1f" stroke-width="0.60" fill="none"/>
<path d="M268.22 205.17L270.82 207.77M268.22 207.77L270.82 205.17" stroke="#bd4f1f" stroke-width="0.60" fill="none"/>
<path d="M268.24 205.23L270.84 207.83M268.24 207.83L270.84 205.23" stroke="#bd4f1f" stroke-width="0.60" fill="none"/>
<path d="M268.26 205.24L270.86 207.84M268.26 207.84L270.86 205.24" stroke="#bd4f1f" stroke-width="0.60" fill="none"/>
<path d="M268.43 205.33L271.03 207.93M268.43 207.93L271.03 205.33" stroke="#bd4f1f" stroke-width="0.60" fill="none"/>
<path d="M268.80 205.61L271.40 208.21M268.80 208.21L271.40 205.61" stroke="#bd4f1f" stroke-width="0.60" fill="none"/>
<path d="M269.43 206.19L272.03 208.79M269.43 208.79L272.03 206.19" stroke="#bd4f1f" stroke-width="0.60" fill="none"/>
<path d="M269.61 206.36L272.21 208.96M269.61 208.96L272.21 206.36" stroke="#bd4f1f" stroke-width="0.60" fill="none"/>
<path d="M270.12 206.72L272.72 209.32M270.12 209.32L272.72 206.72" stroke="#bd4f1f" stroke-width="0.60" fill="none"/>
<path d="M270.18 206.63L272.78 209.23M270.18 209.23L272.78 206.63" stroke="#bd4f1f" stroke-width="0.60" fill="none"/>
<path d="M270.23 206.83L272.83 209.43M270.23 209.43L272.83 206.83" stroke="#bd4f1f" stroke-width="0.60" fill="none"/>
<path d="M270.33 206.86L272.93 209.46M270.33 209.46L272.93 206.86" stroke="#bd4f1f" stroke-width="0.60" fill="none"/>
<path d="M270.48 207.04L273.08 209.64M270.48 209.64L273.08 207.04" stroke="#bd4f1f" stroke-width="0.60" fill="none"/>
<path d="M270.73 207.20L273.33 209.80M270.73 209.80L273.33 207.20" stroke="#bd4f1f" stroke-width="0.60" fill="none"/>
<path d="M271.13 207.53L273.73 210.13M271.13 210.13L273.73 207.53" stroke="#bd4f1f" stroke-width="0.60" fill="none"/>
<path d="M271.49 207.70L274.09 210.30M271.49 210.30L274.09 207.70" stroke="#bd4f1f" stroke-width="0.60" fill="none"/>
<path d="M272.33 208.53L274.93 211.13M272.33 211.13L274.93 208.53" stroke="#bd4f1f" stroke-width="0.60" fill="none"/>
<path d="M272.65 208.70L275.25 211.30M272.65 211.30L275.25 208.70" stroke="#bd4f1f" stroke-width="0.60" fill="none"/>
<path d="M272.71 208.79L275.31 211.39M272.71 211.39L275.31 208.79" stroke="#bd4f1f" stroke-width="0.60" fill="none"/>
<path d="M272.77 208.86L275.37 211.46M272.77 211.46L275.37 208.86" stroke="#bd4f1f" stroke-width="0.60" fill="none"/>
<path d="M272.94 209.10L275.54 211.70M272.94 211.70L275.54 209.10" stroke="#bd4f1f" stroke-width="0.60" fill="none"/>
<path d="M273.36 209.31L275.96 211.91M273.36 211.91L275.96 209.31" stroke="#bd4f1f" stroke-width="0.60" fill="none"/>
<path d="M273.36 209.36L275.96 211.96M273.36 211.96L275.96 209.36" stroke="#bd4f1f" stroke-width="0.60" fill="none"/>
<path d="M273.63 209.56L276.23 212.16M273.63 212.16L276.23 209.56" stroke="#bd4f1f" stroke-width="0.60" fill="none"/>
<path d="M274.00 209.84L276.60 212.44M274.00 212.44L276.60 209.84" stroke="#bd4f1f" stroke-width="0.60" fill="none"/>
<path d="M274.04 209.72L276.64 212.32M274.04 212.32L276.64 209.72" stroke="#bd4f1f" stroke-width="0.60" fill="none"/>
<path d="M274.48 210.28L277.08 212.88M274.48 212.88L277.08 210.28" stroke="#bd4f1f" stroke-width="0.60" fill="none"/>
<path d="M274.91 210.58L277.51 213.18M274.91 213.18L277.51 210.58" stroke="#bd4f1f" stroke-width="0.60" fill="none"/>
<path d="M274.96 210.60L277.56 213.20M274.96 213.20L277.56 210.60" stroke="#bd4f1f" stroke-width="0.60" fill="none"/>
<path d="M274.99 210.60L277.59 213.20M274.99 213.20L277.59 210.60" stroke="#bd4f1f" stroke-width="0.60" fill="none"/>
<path d="M275.08 210.64L277.68 213.24M275.08 213.24L277.68 210.64" stroke="#bd4f1f" stroke-width="0.60" fill="none"/>
<path d="M275.50 211.04L278.10 213.64M275.50 213.64L278.10 211.04" stroke="#bd4f1f" stroke-width="0.60" fill="none"/>
<path d="M276.09 211.51L278.69 214.11M276.09 214.11L278.69 211.51" stroke="#bd4f1f" stroke-width="0.60" fill="none"/>
<path d="M276.15 211.63L278.75 214.23M276.15 214.23L278.75 211.63" stroke="#bd4f1f" stroke-width="0.60" fill="none"/>
<path d="M276.61 211.77L279.21 214.37M276.61 214.37L279.21 211.77" stroke="#bd4f1f" stroke-width="0.60" fill="none"/>
<path d="M276.90 212.14L279.50 214.74M276.90 214.74L279.50 212.14" stroke="#bd4f1f" stroke-width="0.60" fill="none"/>
<path d="M277.11 212.33L279.71 214.93M277.11 214.93L279.71 212.33" stroke="#bd4f1f" stroke-width="0.60" fill="none"/>
<path d="M277.19 212.38L279.79 214.98M277.19 214.98L279.79 212.38" stroke="#bd4f1f" stroke-width="0.60" fill="none"/>
<path d="M277.22 212.41L279.82 215.01M277.22 215.01L279.82 212.41" stroke="#bd4f1f" stroke-width="0.60" fill="none"/>
<path d="M277.29 212.46L279.89 215.06M277.29 215.06L279.89 212.46" stroke="#bd4f1f" stroke-width="0.60" fill="none"/>
<path d="M277.68 212.77L280.28 215.37M277.68 215.37L280.28 212.77" stroke="#bd4f1f" stroke-width="0.60" fill="none"/>
<path d="M277.75 212.87L280.35 215.47M277.75 215.47L280.35 212.87" stroke="#bd4f1f" stroke-width="0.60" fill="none"/>
<path d="M277.75 212.86L280.35 215.46M277.75 215.46L280.35 212.86" stroke="#bd4f1f" stroke-width="0.60" fill="none"/>
<path d="M277.91 212.91L280.51 215.51M277.91 215.51L280.51 212.91" stroke="#bd4f1f" stroke-width="0.60" fill="none"/>
<path d="M277.98 212.94L280.58 215.54M277.98 215.54L280.58 212.94" stroke="#bd4f1f" stroke-width="0.60" fill="none"/>
<path d="M278.27 213.28L280.87 215.88M278.27 215.88L280.87 213.28" stroke="#bd4f1f" stroke-width="0.60" fill="none"/>
<path d="M278.42 213.40L281.02 216.00M278.42 216.00L281.02 213.40" stroke="#bd4f1f" stroke-width="0.60" fill="none"/>
<path d="M279.48 214.31L282.08 216.91M279.48 216.91L282.08 214.31" stroke="#bd4f1f" stroke-width="0.60" fill="none"/>
<path d="M279.54 214.18L282.14 216.78M279.54 216.78L282.14 214.18" stroke="#bd4f1f" stroke-width="0.60" fill="none"/>
<path d="M279.85 214.49L282.45 217.09M279.85 217.09L282.45 214.49" stroke="#bd4f1f" stroke-width="0.60" fill="none"/>
<path d="M279.85 214.47L282.45 217.07M279.85 217.07L282.45 214.47" stroke="#bd4f1f" stroke-width="0.60" fill="none"/>
<path d="M279.90 214.54L282.50 217.14M279.90 217.14L282.50 214.54" stroke="#bd4f1f" stroke-width="0.60" fill="none"/>
<path d="M280.21 214.76L282.81 217.36M280.21 217.36L282.81 214.76" stroke="#bd4f1f" stroke-width="0.60" fill="none"/>
<path d="M280.87 215.34L283.47 217.94M280.87 217.94L283.47 215.34" stroke="#bd4f1f" stroke-width="0.60" fill="none"/>
<path d="M280.94 215.41L283.54 218.01M280.94 218.01L283.54 215.41" stroke="#bd4f1f" stroke-width="0.60" fill="none"/>
<path d="M281.13 215.57L283.73 218.17M281.13 218.17L283.73 215.57" stroke="#bd4f1f" stroke-width="0.60" fill="none"/>
<path d="M281.38 215.75L283.98 218.35M281.38 218.35L283.98 215.75" stroke="#bd4f1f" stroke-width="0.60" fill="none"/>
<path d="M281.54 215.86L284.14 218.46M281.54 218.46L284.14 215.86" stroke="#bd4f1f" stroke-width="0.60" fill="none"/>
<path d="M281.74 216.08L284.34 218.68M281.74 218.68L284.34 216.08" stroke="#bd4f1f" stroke-width="0.60" fill="none"/>
<path d="M281.78 216.05L284.38 218.65M281.78 218.65L284.38 216.05" stroke="#bd4f1f" stroke-width="0.60" fill="none"/>
<path d="M282.14 216.40L284.74 219.00M282.14 219.00L284.74 216.40" stroke="#bd4f1f" stroke-width="0.60" fill="none"/>
<path d="M282.51 216.72L285.11 219.32M282.51 219.32L285.11 216.72" stroke="#bd4f1f" stroke-width="0.60" fill="none"/>
<path d="M282.61 216.74L285.21 219.34M282.61 219.34L285.21 216.74" stroke="#bd4f1f" stroke-width="0.60" fill="none"/>
<path d="M282.63 216.72L285.23 219.32M282.63 219.32L285.23 216.72" stroke="#bd4f1f" stroke-width="0.60" fill="none"/>
<path d="M283.48 217.36L286.08 219.96M283.48 219.96L286.08 217.36" stroke="#bd4f1f" stroke-width="0.60" fill="none"/>
<path d="M283.80 217.57L286.40 220.17M283.80 220.17L286.40 217.57" stroke="#bd4f1f" stroke-width="0.60" fill="none"/>
<path d="M284.07 217.79L286.67 220.39M284.07 220.39L286.67 217.79" stroke="#bd4f1f" stroke-width="0.60" fill="none"/>
<path d="M284.18 217.99L286.78 220.59M284.18 220.59L286.78 217.99" stroke="#bd4f1f" stroke-width="0.60" fill="none"/>
<path d="M284.31 218.11L286.91 220.71M284.31 220.71L286.91 218.11" stroke="#bd4f1f" stroke-width="0.60" fill="none"/>
<path d="M284.52 218.23L287.12 220.83M284.52 220.83L287.12 218.23" stroke="#bd4f1f" stroke-width="0.60" fill="none"/>
<path d="M284.81 218.38L287.41 220.98M284.81 220.98L287.41 218.38" stroke="#bd4f1f" stroke-width="0.60" fill="none"/>
<path d="M284.92 218.49L287.52 221.09M284.92 221.09L287.52 218.49" stroke="#bd4f1f" stroke-width="0.60" fill="none"/>
<path d="M285.34 218.89L287.94 221.49M285.34 221.49L287.94 218.89" stroke="#bd4f1f" stroke-width="0.60" fill="none"/>
<path d="M286.32 219.63L288.92 222.23M286.32 222.23L288.92 219.63" stroke="#bd4f1f" stroke-width="0.60" fill="none"/>
<path d="M287.02 220.24L289.62 222.84M287.02 222.84L289.62 220.24" stroke="#bd4f1f" stroke-width="0.60" fill="none"/>
<path d="M287.12 220.36L289.72 222.96M287.12 222.96L289.72 220.36" stroke="#bd4f1f" stroke-width="0.60" fill="none"/>
<path d="M287.22 220.40L289.82 223.00M287.22 223.00L289.82 220.40" stroke="#bd4f1f" stroke-width="0.60" fill="none"/>
<path d="M287.43 220.59L290.03 223.19M287.43 223.19L290.03 220.59" stroke="#bd4f1f" stroke-width="0.60" fill="none"/>
<path d="M288.22 221.12L290.82 223.72M288.22 223.72L290.82 221.12" stroke="#bd4f1f" stroke-width="0.60" fill="none"/>
<path d="M288.33 221.26L290.93 223.86M288.33 223.86L290.93 221.26" stroke="#bd4f1f" stroke-width="0.60" fill="none"/>
<path d="M288.50 221.42L291.10 224.02M288.50 224.02L291.10 221.42" stroke="#bd4f1f" stroke-width="0.60" fill="none"/>
<path d="M288.60 221.42L291.20 224.02M288.60 224.02L291.20 221.42" stroke="#bd4f1f" stroke-width="0.60" fill="none"/>
<path d="M288.72 221.63L291.32 224.23M288.72 224.23L291.32 221.63" stroke="#bd4f1f" stroke-width="0.60" fill="none"/>
<path d="M288.82 221.74L291.42 224.34M288.82 224.34L291.42 221.74" stroke="#bd4f1f" stroke-width="0.60" fill="none"/>
<path d="M288.86 221.80L291.46 224.40M288.86 224.40L291.46 221.80" stroke="#bd4f1f" stroke-width="0.60" fill="none"/>
<path d="M289.15 221.97L291.75 224.57M289.15 224.57L291.75 221.97" stroke="#bd4f1f" stroke-width="0.60" fill="none"/>
<path d="M289.41 222.11L292.01 224.71M289.41 224.71L292.01 222.11" stroke="#bd4f1f" stroke-width="0.60" fill="none"/>
<path d="M289.95 222.63L292.55 225.23M289.95 225.23L292.55 222.63" stroke="#bd4f1f" stroke-width="0.60" fill="none"/>
<path d="M290.08 222.74L292.68 225.34M290.08 225.34L292.68 222.74" stroke="#bd4f1f" stroke-width="0.60" fill="none"/>
<path d="M290.34 222.79L292.94 225.39M290.34 225.39L292.94 222.79" stroke="#bd4f1f" stroke-width="0.60" fill="none"/>
<path d="M290.39 222.98L292.99 225.58M290.39 225.58L292.99 222.98" stroke="#bd4f1f" stroke-width="0.60" fill="none"/>
<path d="M290.41 222.97L293.01 225.57M290.41 225.57L293.01 222.97" stroke="#bd4f1f" stroke-width="0.60" fill="none"/>
<path d="M290.50 223.01L293.10 225.61M290.50 225.61L293.10 223.01" stroke="#bd4f1f" stroke-width="0.60" fill="none"/>
<path d="M290.62 223.13L293.22 225.73M290.62 225.73L293.22 223.13" stroke="#bd4f1f" stroke-width="0.60" fill="none"/>
<path d="M291.35 223.67L293.95 226.27M291.35 226.27L293.95 223.67" stroke="#bd4f1f" stroke-width="0.60" fill="none"/>
<path d="M292.01 224.29L294.61 226.89M292.01 226.89L294.61 224.29" stroke="#bd4f1f" stroke-width="0.60" fill="none"/>
<path d="M292.33 224.53L294.93 227.13M292.33 227.13L294.93 224.53" stroke="#bd4f1f" stroke-width="0.60" fill="none"/>
<path d="M292.57 224.73L295.17 227.33M292.57 227.33L295.17 224.73" stroke="#bd4f1f" stroke-width="0.60" fill="none"/>
<path d="M293.06 225.09L295.66 227.69M293.06 227.69L295.66 225.09" stroke="#bd4f1f" stroke-width="0.60" fill="none"/>
<path d="M293.27 225.20L295.87 227.80M293.27 227.80L295.87 225.20" stroke="#bd4f1f" stroke-width="0.60" fill="none"/>
<path d="M293.27 225.23L295.87 227.83M293.27 227.83L295.87 225.23" stroke="#bd4f1f" stroke-width="0.60" fill="none"/>
<path d="M293.42 225.29L296.02 227.89M293.42 227.89L296.02 225.29" stroke="#bd4f1f" stroke-width="0.60" fill="none"/>
<path d="M294.50 226.25L297.10 228.85M294.50 228.85L297.10 226.25" stroke="#bd4f1f" stroke-width="0.60" fill="none"/>
<path d="M294.53 226.25L297.13 228.85M294.53 228.85L297.13 226.25" stroke="#bd4f1f" stroke-width="0.60" fill="none"/>
<path d="M295.00 226.59L297.60 229.19M295.00 229.19L297.60 226.59" stroke="#bd4f1f" stroke-width="0.60" fill="none"/>
<path d="M295.36 226.94L297.96 229.54M295.36 229.54L297.96 226.94" stroke="#bd4f1f" stroke-width="0.60" fill="none"/>
<path d="M295.73 227.18L298.33 229.78M295.73 229.78L298.33 227.18" stroke="#bd4f1f" stroke-width="0.60" fill="none"/>
<path d="M296.08 227.44L298.68 230.04M296.08 230.04L298.68 227.44" stroke="#bd4f1f" stroke-width="0.60" fill="none"/>
<path d="M296.18 227.65L298.78 230.25M296.18 230.25L298.78 227.65" stroke="#bd4f1f" stroke-width="0.60" fill="none"/>
<path d="M296.36 227.67L298.96 230.27M296.36 230.27L298.96 227.67" stroke="#bd4f1f" stroke-width="0.60" fill="none"/>
<path d="M296.63 227.86L299.23 230.46M296.63 230.46L299.23 227.86" stroke="#bd4f1f" stroke-width="0.60" fill="none"/>
<path d="M296.65 227.92L299.25 230.52M296.65 230.52L299.25 227.92" stroke="#bd4f1f" stroke-width="0.60" fill="none"/>
<path d="M296.96 228.08L299.56 230.68M296.96 230.68L299.56 228.08" stroke="#bd4f1f" stroke-width="0.60" fill="none"/>
<path d="M297.29 228.52L299.89 231.12M297.29 231.12L299.89 228.52" stroke="#bd4f1f" stroke-width="0.60" fill="none"/>
<path d="M298.02 229.03L300.62 231.63M298.02 231.63L300.62 229.03" stroke="#bd4f1f" stroke-width="0.60" fill="none"/>
<path d="M298.37 229.30L300.97 231.90M298.37 231.90L300.97 229.30" stroke="#bd4f1f" stroke-width="0.60" fill="none"/>
<path d="M298.53 229.47L301.13 232.07M298.53 232.07L301.13 229.47" stroke="#bd4f1f" stroke-width="0.60" fill="none"/>
<path d="M299.17 229.88L301.77 232.48M299.17 232.48L301.77 229.88" stroke="#bd4f1f" stroke-width="0.60" fill="none"/>
<path d="M300.31 230.92L302.91 233.52M300.31 233.52L302.91 230.92" stroke="#bd4f1f" stroke-width="0.60" fill="none"/>
<path d="M300.48 231.02L303.08 233.62M300.48 233.62L303.08 231.02" stroke="#bd4f1f" stroke-width="0.60" fill="none"/>
<path d="M300.52 231.09L303.12 233.69M300.52 233.69L303.12 231.09" stroke="#bd4f1f" stroke-width="0.60" fill="none"/>
<path d="M300.52 231.05L303.12 233.65M300.52 233.65L303.12 231.05" stroke="#bd4f1f" stroke-width="0.60" fill="none"/>
<path d="M300.71 231.15L303.31 233.75M300.71 233.75L303.31 231.15" stroke="#bd4f1f" stroke-width="0.60" fill="none"/>
<path d="M301.34 231.74L303.94 234.34M301.34 234.34L303.94 231.74" stroke="#bd4f1f" stroke-width="0.60" fill="none"/>
<path d="M301.49 231.92L304.09 234.52M301.49 234.52L304.09 231.92" stroke="#bd4f1f" stroke-width="0.60" fill="none"/>
<path d="M301.67 231.90L304.27 234.50M301.67 234.50L304.27 231.90" stroke="#bd4f1f" stroke-width="0.60" fill="none"/>
<path d="M301.76 231.98L304.36 234.58M301.76 234.58L304.36 231.98" stroke="#bd4f1f" stroke-width="0.60" fill="none"/>
<path d="M302.17 232.39L304.77 234.99M302.17 234.99L304.77 232.39" stroke="#bd4f1f" stroke-width="0.60" fill="none"/>
<path d="M302.17 232.40L304.77 235.00M302.17 235.00L304.77 232.40" stroke="#bd4f1f" stroke-width="0.60" fill="none"/>
<path d="M302.19 232.45L304.79 235.05M302.19 235.05L304.79 232.45" stroke="#bd4f1f" stroke-width="0.60" fill="none"/>
<path d="M302.36 232.58L304.96 235.18M302.36 235.18L304.96 232.58" stroke="#bd4f1f" stroke-width="0.60" fill="none"/>
<path d="M302.42 232.60L305.02 235.20M302.42 235.20L305.02 232.60" stroke="#bd4f1f" stroke-width="0.60" fill="none"/>
<path d="M302.71 232.81L305.31 235.41M302.71 235.41L305.31 232.81" stroke="#bd4f1f" stroke-width="0.60" fill="none"/>
<path d="M303.02 233.08L305.62 235.68M303.02 235.68L305.62 233.08" stroke="#bd4f1f" stroke-width="0.60" fill="none"/>
<path d="M303.12 233.23L305.72 235.83M303.12 235.83L305.72 233.23" stroke="#bd4f1f" stroke-width="0.60" fill="none"/>
<path d="M303.20 233.16L305.80 235.76M303.20 235.76L305.80 233.16" stroke="#bd4f1f" stroke-width="0.60" fill="none"/>
<path d="M303.31 233.24L305.91 235.84M303.31 235.84L305.91 233.24" stroke="#bd4f1f" stroke-width="0.60" fill="none"/>
<path d="M303.75 233.69L306.35 236.29M303.75 236.29L306.35 233.69" stroke="#bd4f1f" stroke-width="0.60" fill="none"/>
<path d="M303.90 233.77L306.50 236.37M303.90 236.37L306.50 233.77" stroke="#bd4f1f" stroke-width="0.60" fill="none"/>
<path d="M304.99 234.62L307.59 237.22M304.99 237.22L307.59 234.62" stroke="#bd4f1f" stroke-width="0.60" fill="none"/>
<path d="M305.07 234.58L307.67 237.18M305.07 237.18L307.67 234.58" stroke="#bd4f1f" stroke-width="0.60" fill="none"/>
<path d="M305.15 234.69L307.75 237.29M305.15 237.29L307.75 234.69" stroke="#bd4f1f" stroke-width="0.60" fill="none"/>
<path d="M306.07 235.48L308.67 238.08M306.07 238.08L308.67 235.48" stroke="#bd4f1f" stroke-width="0.60" fill="none"/>
<path d="M306.19 235.54L308.79 238.14M306.19 238.14L308.79 235.54" stroke="#bd4f1f" stroke-width="0.60" fill="none"/>
<path d="M306.50 235.83L309.10 238.43M306.50 238.43L309.10 235.83" stroke="#bd4f1f" stroke-width="0.60" fill="none"/>
<path d="M306.63 235.90L309.23 238.50M306.63 238.50L309.23 235.90" stroke="#bd4f1f" stroke-width="0.60" fill="none"/>
<path d="M306.89 236.21L309.49 238.81M306.89 238.81L309.49 236.21" stroke="#bd4f1f" stroke-width="0.60" fill="none"/>
<path d="M306.94 236.22L309.54 238.82M306.94 238.82L309.54 236.22" stroke="#bd4f1f" stroke-width="0.60" fill="none"/>
<path d="M307.13 236.26L309.73 238.86M307.13 238.86L309.73 236.26" stroke="#bd4f1f" stroke-width="0.60" fill="none"/>
<path d="M308.27 237.21L310.87 239.81M308.27 239.81L310.87 237.21" stroke="#bd4f1f" stroke-width="0.60" fill="none"/>
<path d="M308.43 237.31L311.03 239.91M308.43 239.91L311.03 237.31" stroke="#bd4f1f" stroke-width="0.60" fill="none"/>
<path d="M308.45 237.43L311.05 240.03M308.45 240.03L311.05 237.43" stroke="#bd4f1f" stroke-width="0.60" fill="none"/>
<path d="M308.49 237.44L311.09 240.04M308.49 240.04L311.09 237.44" stroke="#bd4f1f" stroke-width="0.60" fill="none"/>
<path d="M308.56 237.45L311.16 240.05M308.56 240.05L311.16 237.45" stroke="#bd4f1f" stroke-width="0.60" fill="none"/>
<path d="M308.59 237.52L311.19 240.12M308.59 240.12L311.19 237.52" stroke="#bd4f1f" stroke-width="0.60" fill="none"/>
<path d="M309.75 238.46L312.35 241.06M309.75 241.06L312.35 238.46" stroke="#bd4f1f" stroke-width="0.60" fill="none"/>
<path d="M309.95 238.49L312.55 241.09M309.95 241.09L312.55 238.49" stroke="#bd4f1f" stroke-width="0.60" fill="none"/>
<path d="M310.10 238.68L312.70 241.28M310.10 241.28L312.70 238.68" stroke="#bd4f1f" stroke-width="0.60" fill="none"/>
<path d="M310.33 238.99L312.93 241.59M310.33 241.59L312.93 238.99" stroke="#bd4f1f" stroke-width="0.60" fill="none"/>
<path d="M310.46 238.98L313.06 241.58M310.46 241.58L313.06 238.98" stroke="#bd4f1f" stroke-width="0.60" fill="none"/>
<path d="M310.52 238.98L313.12 241.58M310.52 241.58L313.12 238.98" stroke="#bd4f1f" stroke-width="0.60" fill="none"/>
<path d="M311.03 239.47L313.63 242.07M311.03 242.07L313.63 239.47" stroke="#bd4f1f" stroke-width="0.60" fill="none"/>
<path d="M311.31 239.70L313.91 242.30M311.31 242.30L313.91 239.70" stroke="#bd4f1f" stroke-width="0.60" fill="none"/>
<path d="M311.71 240.10L314.31 242.70M311.71 242.70L314.31 240.10" stroke="#bd4f1f" stroke-width="0.60" fill="none"/>
<path d="M312.18 240.36L314.78 242.96M312.18 242.96L314.78 240.36" stroke="#bd4f1f" stroke-width="0.60" fill="none"/>
<path d="M312.20 240.37L314.80 242.97M312.20 242.97L314.80 240.37" stroke="#bd4f1f" stroke-width="0.60" fill="none"/>
<path d="M312.20 240.39L314.80 242.99M312.20 242.99L314.80 240.39" stroke="#bd4f1f" stroke-width="0.60" fill="none"/>
<path d="M312.54 240.72L315.14 243.32M312.54 243.32L315.14 240.72" stroke="#bd4f1f" stroke-width="0.60" fill="none"/>
<path d="M312.71 240.84L315.31 243.44M312.71 243.44L315.31 240.84" stroke="#bd4f1f" stroke-width="0.60" fill="none"/>
<path d="M312.97 241.05L315.57 243.65M312.97 243.65L315.57 241.05" stroke="#bd4f1f" stroke-width="0.60" fill="none"/>
<path d="M313.02 241.10L315.62 243.70M313.02 243.70L315.62 241.10" stroke="#bd4f1f" stroke-width="0.60" fill="none"/>
<path d="M313.40 241.36L316.00 243.96M313.40 243.96L316.00 241.36" stroke="#bd4f1f" stroke-width="0.60" fill="none"/>
<path d="M313.50 241.31L316.10 243.91M313.50 243.91L316.10 241.31" stroke="#bd4f1f" stroke-width="0.60" fill="none"/>
<path d="M313.52 241.55L316.12 244.15M313.52 244.15L316.12 241.55" stroke="#bd4f1f" stroke-width="0.60" fill="none"/>
<path d="M313.81 241.64L316.41 244.24M313.81 244.24L316.41 241.64" stroke="#bd4f1f" stroke-width="0.60" fill="none"/>
<path d="M313.86 241.69L316.46 244.29M313.86 244.29L316.46 241.69" stroke="#bd4f1f" stroke-width="0.60" fill="none"/>
<path d="M314.21 241.98L316.81 244.58M314.21 244.58L316.81 241.98" stroke="#bd4f1f" stroke-width="0.60" fill="none"/>
<path d="M314.48 242.28L317.08 244.88M314.48 244.88L317.08 242.28" stroke="#bd4f1f" stroke-width="0.60" fill="none"/>
<path d="M314.66 242.37L317.26 244.97M314.66 244.97L317.26 242.37" stroke="#bd4f1f" stroke-width="0.60" fill="none"/>
<path d="M314.67 242.38L317.27 244.98M314.67 244.98L317.27 242.38" stroke="#bd4f1f" stroke-width="0.60" fill="none"/>
<path d="M315.16 242.76L317.76 245.36M315.16 245.36L317.76 242.76" stroke="#bd4f1f" stroke-width="0.60" fill="none"/>
<path d="M315.43 242.91L318.03 245.51M315.43 245.51L318.03 242.91" stroke="#bd4f1f" stroke-width="0.60" fill="none"/>
<path d="M315.62 243.18L318.22 245.78M315.62 245.78L318.22 243.18" stroke="#bd4f1f" stroke-width="0.60" fill="none"/>
<path d="M316.28 243.61L318.88 246.21M316.28 246.21L318.88 243.61" stroke="#bd4f1f" stroke-width="0.60" fill="none"/>
<path d="M316.65 243.97L319.25 246.57M316.65 246.57L319.25 243.97" stroke="#bd4f1f" stroke-width="0.60" fill="none"/>
<path d="M316.75 244.02L319.35 246.62M316.75 246.62L319.35 244.02" stroke="#bd4f1f" stroke-width="0.60" fill="none"/>
<path d="M316.77 244.07L319.37 246.67M316.77 246.67L319.37 244.07" stroke="#bd4f1f" stroke-width="0.60" fill="none"/>
<path d="M316.81 244.14L319.41 246.74M316.81 246.74L319.41 244.14" stroke="#bd4f1f" stroke-width="0.60" fill="none"/>
<path d="M316.88 244.20L319.48 246.80M316.88 246.80L319.48 244.20" stroke="#bd4f1f" stroke-width="0.60" fill="none"/>
<path d="M317.23 244.46L319.83 247.06M317.23 247.06L319.83 244.46" stroke="#bd4f1f" stroke-width="0.60" fill="none"/>
<path d="M317.23 244.43L319.83 247.03M317.23 247.03L319.83 244.43" stroke="#bd4f1f" stroke-width="0.60" fill="none"/>
<path d="M317.24 244.45L319.84 247.05M317.24 247.05L319.84 244.45" stroke="#bd4f1f" stroke-width="0.60" fill="none"/>
<path d="M317.30 244.51L319.90 247.11M317.30 247.11L319.90 244.51" stroke="#bd4f1f" stroke-width="0.60" fill="none"/>
<path d="M317.50 244.68L320.10 247.28M317.50 247.28L320.10 244.68" stroke="#bd4f1f" stroke-width="0.60" fill="none"/>
<path d="M317.60 244.68L320.20 247.28M317.60 247.28L320.20 244.68" stroke="#bd4f1f" stroke-width="0.60" fill="none"/>
<path d="M317.71 244.77L320.31 247.37M317.71 247.37L320.31 244.77" stroke="#bd4f1f" stroke-width="0.60" fill="none"/>
<path d="M317.87 244.91L320.47 247.51M317.87 247.51L320.47 244.91" stroke="#bd4f1f" stroke-width="0.60" fill="none"/>
<path d="M318.13 245.12L320.73 247.72M318.13 247.72L320.73 245.12" stroke="#bd4f1f" stroke-width="0.60" fill="none"/>
<path d="M318.57 245.52L321.17 248.12M318.57 248.12L321.17 245.52" stroke="#bd4f1f" stroke-width="0.60" fill="none"/>
<path d="M318.73 245.64L321.33 248.24M318.73 248.24L321.33 245.64" stroke="#bd4f1f" stroke-width="0.60" fill="none"/>
<path d="M319.21 245.98L321.81 248.58M319.21 248.58L321.81 245.98" stroke="#bd4f1f" stroke-width="0.60" fill="none"/>
<path d="M319.33 246.08L321.93 248.68M319.33 248.68L321.93 246.08" stroke="#bd4f1f" stroke-width="0.60" fill="none"/>
<path d="M320.30 246.81L322.90 249.41M320.30 249.41L322.90 246.81" stroke="#bd4f1f" stroke-width="0.60" fill="none"/>
<path d="M320.87 247.38L323.47 249.98M320.87 249.98L323.47 247.38" stroke="#bd4f1f" stroke-width="0.60" fill="none"/>
<path d="M321.10 247.50L323.70 250.10M321.10 250.10L323.70 247.50" stroke="#bd4f1f" stroke-width="0.60" fill="none"/>
<path d="M321.11 247.50L323.71 250.10M321.11 250.10L323.71 247.50" stroke="#bd4f1f" stroke-width="0.60" fill="none"/>
<path d="M321.12 247.52L323.72 250.12M321.12 250.12L323.72 247.52" stroke="#bd4f1f" stroke-width="0.60" fill="none"/>
<path d="M321.33 247.77L323.93 250.37M321.33 250.37L323.93 247.77" stroke="#bd4f1f" stroke-width="0.60" fill="none"/>
<path d="M322.05 248.27L324.65 250.87M322.05 250.87L324.65 248.27" stroke="#bd4f1f" stroke-width="0.60" fill="none"/>
<path d="M322.07 248.35L324.67 250.95M322.07 250.95L324.67 248.35" stroke="#bd4f1f" stroke-width="0.60" fill="none"/>
<path d="M322.35 248.50L324.95 251.10M322.35 251.10L324.95 248.50" stroke="#bd4f1f" stroke-width="0.60" fill="none"/>
<path d="M323.25 249.24L325.85 251.84M323.25 251.84L325.85 249.24" stroke="#bd4f1f" stroke-width="0.60" fill="none"/>
<path d="M323.51 249.40L326.11 252.00M323.51 252.00L326.11 249.40" stroke="#bd4f1f" stroke-width="0.60" fill="none"/>
<path d="M323.98 249.83L326.58 252.43M323.98 252.43L326.58 249.83" stroke="#bd4f1f" stroke-width="0.60" fill="none"/>
<path d="M324.36 250.11L326.96 252.71M324.36 252.71L326.96 250.11" stroke="#bd4f1f" stroke-width="0.60" fill="none"/>
<path d="M324.47 250.14L327.07 252.74M324.47 252.74L327.07 250.14" stroke="#bd4f1f" stroke-width="0.60" fill="none"/>
<path d="M324.95 250.59L327.55 253.19M324.95 253.19L327.55 250.59" stroke="#bd4f1f" stroke-width="0.60" fill="none"/>
<path d="M325.00 250.56L327.60 253.16M325.00 253.16L327.60 250.56" stroke="#bd4f1f" stroke-width="0.60" fill="none"/>
<path d="M325.55 251.07L328.15 253.67M325.55 253.67L328.15 251.07" stroke="#bd4f1f" stroke-width="0.60" fill="none"/>
<path d="M326.06 251.58L328.66 254.18M326.06 254.18L328.66 251.58" stroke="#bd4f1f" stroke-width="0.60" fill="none"/>
<path d="M326.58 251.87L329.18 254.47M326.58 254.47L329.18 251.87" stroke="#bd4f1f" stroke-width="0.60" fill="none"/>
<path d="M327.32 252.51L329.92 255.11M327.32 255.11L329.92 252.51" stroke="#bd4f1f" stroke-width="0.60" fill="none"/>
<path d="M327.58 252.82L330.18 255.42M327.58 255.42L330.18 252.82" stroke="#bd4f1f" stroke-width="0.60" fill="none"/>
<path d="M327.61 252.69L330.21 255.29M327.61 255.29L330.21 252.69" stroke="#bd4f1f" stroke-width="0.60" fill="none"/>
<path d="M327.69 252.77L330.29 255.37M327.69 255.37L330.29 252.77" stroke="#bd4f1f" stroke-width="0.60" fill="none"/>
<path d="M328.19 253.17L330.79 255.77M328.19 255.77L330.79 253.17" stroke="#bd4f1f" stroke-width="0.60" fill="none"/>
<path d="M328.92 253.80L331.52 256.40M328.92 256.40L331.52 253.80" stroke="#bd4f1f" stroke-width="0.60" fill="none"/>
<path d="M328.94 253.80L331.54 256.40M328.94 256.40L331.54 253.80" stroke="#bd4f1f" stroke-width="0.60" fill="none"/>
<path d="M329.02 253.82L331.62 256.42M329.02 256.42L331.62 253.82" stroke="#bd4f1f" stroke-width="0.60" fill="none"/>
<path d="M329.07 253.94L331.67 256.54M329.07 256.54L331.67 253.94" stroke="#bd4f1f" stroke-width="0.60" fill="none"/>
<path d="M329.10 253.98L331.70 256.58M329.10 256.58L331.70 253.98" stroke="#bd4f1f" stroke-width="0.60" fill="none"/>
<path d="M329.19 254.01L331.79 256.61M329.19 256.61L331.79 254.01" stroke="#bd4f1f" stroke-width="0.60" fill="none"/>
<path d="M329.51 254.28L332.11 256.88M329.51 256.88L332.11 254.28" stroke="#bd4f1f" stroke-width="0.60" fill="none"/>
<path d="M329.55 254.19L332.15 256.79M329.55 256.79L332.15 254.19" stroke="#bd4f1f" stroke-width="0.60" fill="none"/>
<path d="M329.82 254.47L332.42 257.07M329.82 257.07L332.42 254.47" stroke="#bd4f1f" stroke-width="0.60" fill="none"/>
<path d="M330.16 254.71L332.76 257.31M330.16 257.31L332.76 254.71" stroke="#bd4f1f" stroke-width="0.60" fill="none"/>
<path d="M330.49 255.04L333.09 257.64M330.49 257.64L333.09 255.04" stroke="#bd4f1f" stroke-width="0.60" fill="none"/>
<path d="M330.86 255.37L333.46 257.97M330.86 257.97L333.46 255.37" stroke="#bd4f1f" stroke-width="0.60" fill="none"/>
<path d="M331.04 255.47L333.64 258.07M331.04 258.07L333.64 255.47" stroke="#bd4f1f" stroke-width="0.60" fill="none"/>
<path d="M331.39 255.77L333.99 258.37M331.39 258.37L333.99 255.77" stroke="#bd4f1f" stroke-width="0.60" fill="none"/>
<path d="M331.43 255.79L334.03 258.39M331.43 258.39L334.03 255.79" stroke="#bd4f1f" stroke-width="0.60" fill="none"/>
<path d="M331.45 255.80L334.05 258.40M331.45 258.40L334.05 255.80" stroke="#bd4f1f" stroke-width="0.60" fill="none"/>
<path d="M332.15 256.40L334.75 259.00M332.15 259.00L334.75 256.40" stroke="#bd4f1f" stroke-width="0.60" fill="none"/>
<path d="M332.37 256.52L334.97 259.12M332.37 259.12L334.97 256.52" stroke="#bd4f1f" stroke-width="0.60" fill="none"/>
<path d="M332.49 256.62L335.09 259.22M332.49 259.22L335.09 256.62" stroke="#bd4f1f" stroke-width="0.60" fill="none"/>
<path d="M332.50 256.66L335.10 259.26M332.50 259.26L335.10 256.66" stroke="#bd4f1f" stroke-width="0.60" fill="none"/>
<path d="M332.64 256.58L335.24 259.18M332.64 259.18L335.24 256.58" stroke="#bd4f1f" stroke-width="0.60" fill="none"/>
<path d="M333.14 257.10L335.74 259.70M333.14 259.70L335.74 257.10" stroke="#bd4f1f" stroke-width="0.60" fill="none"/>
<path d="M333.16 257.16L335.76 259.76M333.16 259.76L335.76 257.16" stroke="#bd4f1f" stroke-width="0.60" fill="none"/>
<path d="M333.21 257.17L335.81 259.77M333.21 259.77L335.81 257.17" stroke="#bd4f1f" stroke-width="0.60" fill="none"/>
<path d="M333.57 257.57L336.17 260.17M333.57 260.17L336.17 257.57" stroke="#bd4f1f" stroke-width="0.60" fill="none"/>
<path d="M333.60 257.52L336.20 260.12M333.60 260.12L336.20 257.52" stroke="#bd4f1f" stroke-width="0.60" fill="none"/>
<path d="M333.84 257.68L336.44 260.28M333.84 260.28L336.44 257.68" stroke="#bd4f1f" stroke-width="0.60" fill="none"/>
<path d="M334.74 258.40L337.34 261.00M334.74 261.00L337.34 258.40" stroke="#bd4f1f" stroke-width="0.60" fill="none"/>
<path d="M334.87 258.51L337.47 261.11M334.87 261.11L337.47 258.51" stroke="#bd4f1f" stroke-width="0.60" fill="none"/>
<path d="M334.94 258.56L337.54 261.16M334.94 261.16L337.54 258.56" stroke="#bd4f1f" stroke-width="0.60" fill="none"/>
<path d="M335.24 258.89L337.84 261.49M335.24 261.49L337.84 258.89" stroke="#bd4f1f" stroke-width="0.60" fill="none"/>
<path d="M335.46 259.06L338.06 261.66M335.46 261.66L338.06 259.06" stroke="#bd4f1f" stroke-width="0.60" fill="none"/>
<path d="M336.01 259.44L338.61 262.04M336.01 262.04L338.61 259.44" stroke="#bd4f1f" stroke-width="0.60" fill="none"/>
<path d="M336.10 259.59L338.70 262.19M336.10 262.19L338.70 259.59" stroke="#bd4f1f" stroke-width="0.60" fill="none"/>
<path d="M336.37 259.75L338.97 262.35M336.37 262.35L338.97 259.75" stroke="#bd4f1f" stroke-width="0.60" fill="none"/>
<path d="M336.84 260.02L339.44 262.62M336.84 262.62L339.44 260.02" stroke="#bd4f1f" stroke-width="0.60" fill="none"/>
<path d="M337.14 260.38L339.74 262.98M337.14 262.98L339.74 260.38" stroke="#bd4f1f" stroke-width="0.60" fill="none"/>
<path d="M337.42 260.63L340.02 263.23M337.42 263.23L340.02 260.63" stroke="#bd4f1f" stroke-width="0.60" fill="none"/>
<path d="M337.53 260.57L340.13 263.17M337.53 263.17L340.13 260.57" stroke="#bd4f1f" stroke-width="0.60" fill="none"/>
<path d="M337.66 260.88L340.26 263.48M337.66 263.48L340.26 260.88" stroke="#bd4f1f" stroke-width="0.60" fill="none"/>
<path d="M337.81 260.77L340.41 263.37M337.81 263.37L340.41 260.77" stroke="#bd4f1f" stroke-width="0.60" fill="none"/>
<path d="M338.10 261.11L340.70 263.71M338.10 263.71L340.70 261.11" stroke="#bd4f1f" stroke-width="0.60" fill="none"/>
<path d="M338.72 261.58L341.32 264.18M338.72 264.18L341.32 261.58" stroke="#bd4f1f" stroke-width="0.60" fill="none"/>
<path d="M338.77 261.59L341.37 264.19M338.77 264.19L341.37 261.59" stroke="#bd4f1f" stroke-width="0.60" fill="none"/>
<path d="M339.30 262.07L341.90 264.67M339.30 264.67L341.90 262.07" stroke="#bd4f1f" stroke-width="0.60" fill="none"/>
<path d="M340.70 263.30L343.30 265.90M340.70 265.90L343.30 263.30" stroke="#bd4f1f" stroke-width="0.60" fill="none"/>
<path d="M342.10 264.50L344.70 267.10M342.10 267.10L344.70 264.50" stroke="#bd4f1f" stroke-width="0.60" fill="none"/>
<path d="M351.90 272.81L354.89 275.80M351.90 275.80L354.89 272.81" stroke="#bd4f1f" stroke-width="0.60" fill="none"/>
<path d="M351.90 272.81L354.89 275.80M351.90 275.80L354.89 272.81" stroke="#bd4f1f" stroke-width="0.60" fill="none"/>
</g>
<rect x="320.00" y="173.80" width="37.80" height="10.50" fill="#fff" stroke="#777" stroke-width="0.7"/>
<path d="M325.50 177.70L328.50 180.69M325.50 180.69L328.50 177.70" stroke="#bd4f1f" stroke-width="0.75" fill="none"/>
<text x="333.60" y="181.80" font-size="7.6" textLength="22.50" lengthAdjust="spacingAndGlyphs" fill="#111">SPEA2</text>
</g>
<g>
<rect x="407.50" y="172.00" width="135.30" height="125.20" fill="#fff" stroke="#bbbbbb" stroke-width="1.25"/>
<text x="407.50" y="307.40" font-size="7.85" text-anchor="middle" fill="#262626">28</text>
<text x="452.60" y="307.40" font-size="7.85" text-anchor="middle" fill="#262626">30</text>
<text x="497.70" y="307.40" font-size="7.85" text-anchor="middle" fill="#262626">32</text>
<text x="542.80" y="307.40" font-size="7.85" text-anchor="middle" fill="#262626">34</text>
<text x="404.40" y="300.40" font-size="7.85" text-anchor="end" fill="#262626">0.43</text>
<text x="404.40" y="275.36" font-size="7.85" text-anchor="end" fill="#262626">0.44</text>
<text x="404.40" y="250.32" font-size="7.85" text-anchor="end" fill="#262626">0.45</text>
<text x="404.40" y="225.28" font-size="7.85" text-anchor="end" fill="#262626">0.46</text>
<text x="404.40" y="200.24" font-size="7.85" text-anchor="end" fill="#262626">0.47</text>
<text x="404.40" y="175.20" font-size="7.85" text-anchor="end" fill="#262626">0.48</text>
<path d="M407.50 297.20v-1.40M407.50 172.00v1.40M452.60 297.20v-1.40M452.60 172.00v1.40M497.70 297.20v-1.40M497.70 172.00v1.40M542.80 297.20v-1.40M542.80 172.00v1.40M407.50 297.20h1.40M542.80 297.20h-1.40M407.50 272.16h1.40M542.80 272.16h-1.40M407.50 247.12h1.40M542.80 247.12h-1.40M407.50 222.08h1.40M542.80 222.08h-1.40M407.50 197.04h1.40M542.80 197.04h-1.40M407.50 172.00h1.40M542.80 172.00h-1.40" stroke="#555" stroke-width="0.5" fill="none"/>
<text x="474.85" y="168.00" font-size="8.75" text-anchor="middle" fill="#000" style="stroke-width:0.2px">Pareto front</text>
<text x="456.40" y="317.80" font-size="9.20" font-style="italic" fill="#111" style="stroke-width:0.25px">f</text>
<text x="459.50" y="319.40" font-size="6.00" fill="#111">1</text>
<text x="464.70" y="317.80" font-size="8.00" fill="#262626">(MW)</text>
<text transform="translate(385.50 237.00) rotate(-90) skewX(-7)" font-size="10.80" text-anchor="middle" fill="#111" style="stroke-width:0.25px"><tspan font-style="italic">f</tspan><tspan font-size="7.00" dy="2.1">2</tspan></text>
<clipPath id="c407"><rect x="407.50" y="172.00" width="135.30" height="125.20"/></clipPath>
<g clip-path="url(#c407)">
<circle cx="429.00" cy="173.00" r="1.60" fill="#008000"/>
<circle cx="429.37" cy="173.38" r="1.60" fill="#008000"/>
<circle cx="429.74" cy="173.75" r="1.60" fill="#008000"/>
<circle cx="430.11" cy="174.12" r="1.60" fill="#008000"/>
<circle cx="430.48" cy="174.50" r="1.60" fill="#008000"/>
<circle cx="430.84" cy="174.88" r="1.60" fill="#008000"/>
<circle cx="431.21" cy="175.25" r="1.60" fill="#008000"/>
<circle cx="431.58" cy="175.62" r="1.60" fill="#008000"/>
<circle cx="431.95" cy="176.00" r="1.60" fill="#008000"/>
<circle cx="432.32" cy="176.38" r="1.60" fill="#008000"/>
<circle cx="432.69" cy="176.75" r="1.60" fill="#008000"/>
<circle cx="433.06" cy="177.12" r="1.60" fill="#008000"/>
<circle cx="433.43" cy="177.50" r="1.60" fill="#008000"/>
<circle cx="433.79" cy="177.88" r="1.60" fill="#008000"/>
<circle cx="434.16" cy="178.25" r="1.60" fill="#008000"/>
<circle cx="434.53" cy="178.62" r="1.60" fill="#008000"/>
<circle cx="434.90" cy="179.00" r="1.60" fill="#008000"/>
<circle cx="435.27" cy="179.38" r="1.60" fill="#008000"/>
<circle cx="435.64" cy="179.75" r="1.60" fill="#008000"/>
<circle cx="436.01" cy="180.12" r="1.60" fill="#008000"/>
<circle cx="436.38" cy="180.50" r="1.60" fill="#008000"/>
<circle cx="436.74" cy="180.88" r="1.60" fill="#008000"/>
<circle cx="437.11" cy="181.25" r="1.60" fill="#008000"/>
<circle cx="437.48" cy="181.62" r="1.60" fill="#008000"/>
<circle cx="437.85" cy="182.00" r="1.60" fill="#008000"/>
<circle cx="438.22" cy="182.38" r="1.60" fill="#008000"/>
<circle cx="438.59" cy="182.75" r="1.60" fill="#008000"/>
<circle cx="438.96" cy="183.12" r="1.60" fill="#008000"/>
<circle cx="439.32" cy="183.50" r="1.60" fill="#008000"/>
<circle cx="439.69" cy="183.88" r="1.60" fill="#008000"/>
<circle cx="440.06" cy="184.25" r="1.60" fill="#008000"/>
<circle cx="440.43" cy="184.62" r="1.60" fill="#008000"/>
<circle cx="440.80" cy="185.00" r="1.60" fill="#008000"/>
<circle cx="441.17" cy="185.38" r="1.60" fill="#008000"/>
<circle cx="441.54" cy="185.75" r="1.60" fill="#008000"/>
<circle cx="441.91" cy="186.12" r="1.60" fill="#008000"/>
<circle cx="442.27" cy="186.50" r="1.60" fill="#008000"/>
<circle cx="442.64" cy="186.88" r="1.60" fill="#008000"/>
<circle cx="443.01" cy="187.25" r="1.60" fill="#008000"/>
<circle cx="443.38" cy="187.62" r="1.60" fill="#008000"/>
<circle cx="443.75" cy="188.00" r="1.60" fill="#008000"/>
<circle cx="447.90" cy="192.30" r="1.60" fill="#008000"/>
<circle cx="455.70" cy="199.80" r="1.60" fill="#008000"/>
<circle cx="460.40" cy="204.60" r="1.60" fill="#008000"/>
<circle cx="465.30" cy="209.30" r="1.60" fill="#008000"/>
<circle cx="473.50" cy="217.80" r="1.60" fill="#008000"/>
<circle cx="483.50" cy="227.90" r="1.60" fill="#008000"/>
<circle cx="503.20" cy="247.70" r="1.60" fill="#008000"/>
<circle cx="539.50" cy="283.80" r="1.60" fill="#008000"/>
</g>
<rect x="488.80" y="175.20" width="50.70" height="9.80" fill="#fff" stroke="#777" stroke-width="0.7"/>
<circle cx="495.20" cy="180.20" r="1.73" fill="#008000"/>
<text x="501.80" y="183.00" font-size="7.6" textLength="35.30" lengthAdjust="spacingAndGlyphs" fill="#111">MOEADDE</text>
</g>
</svg>
</body></html>
